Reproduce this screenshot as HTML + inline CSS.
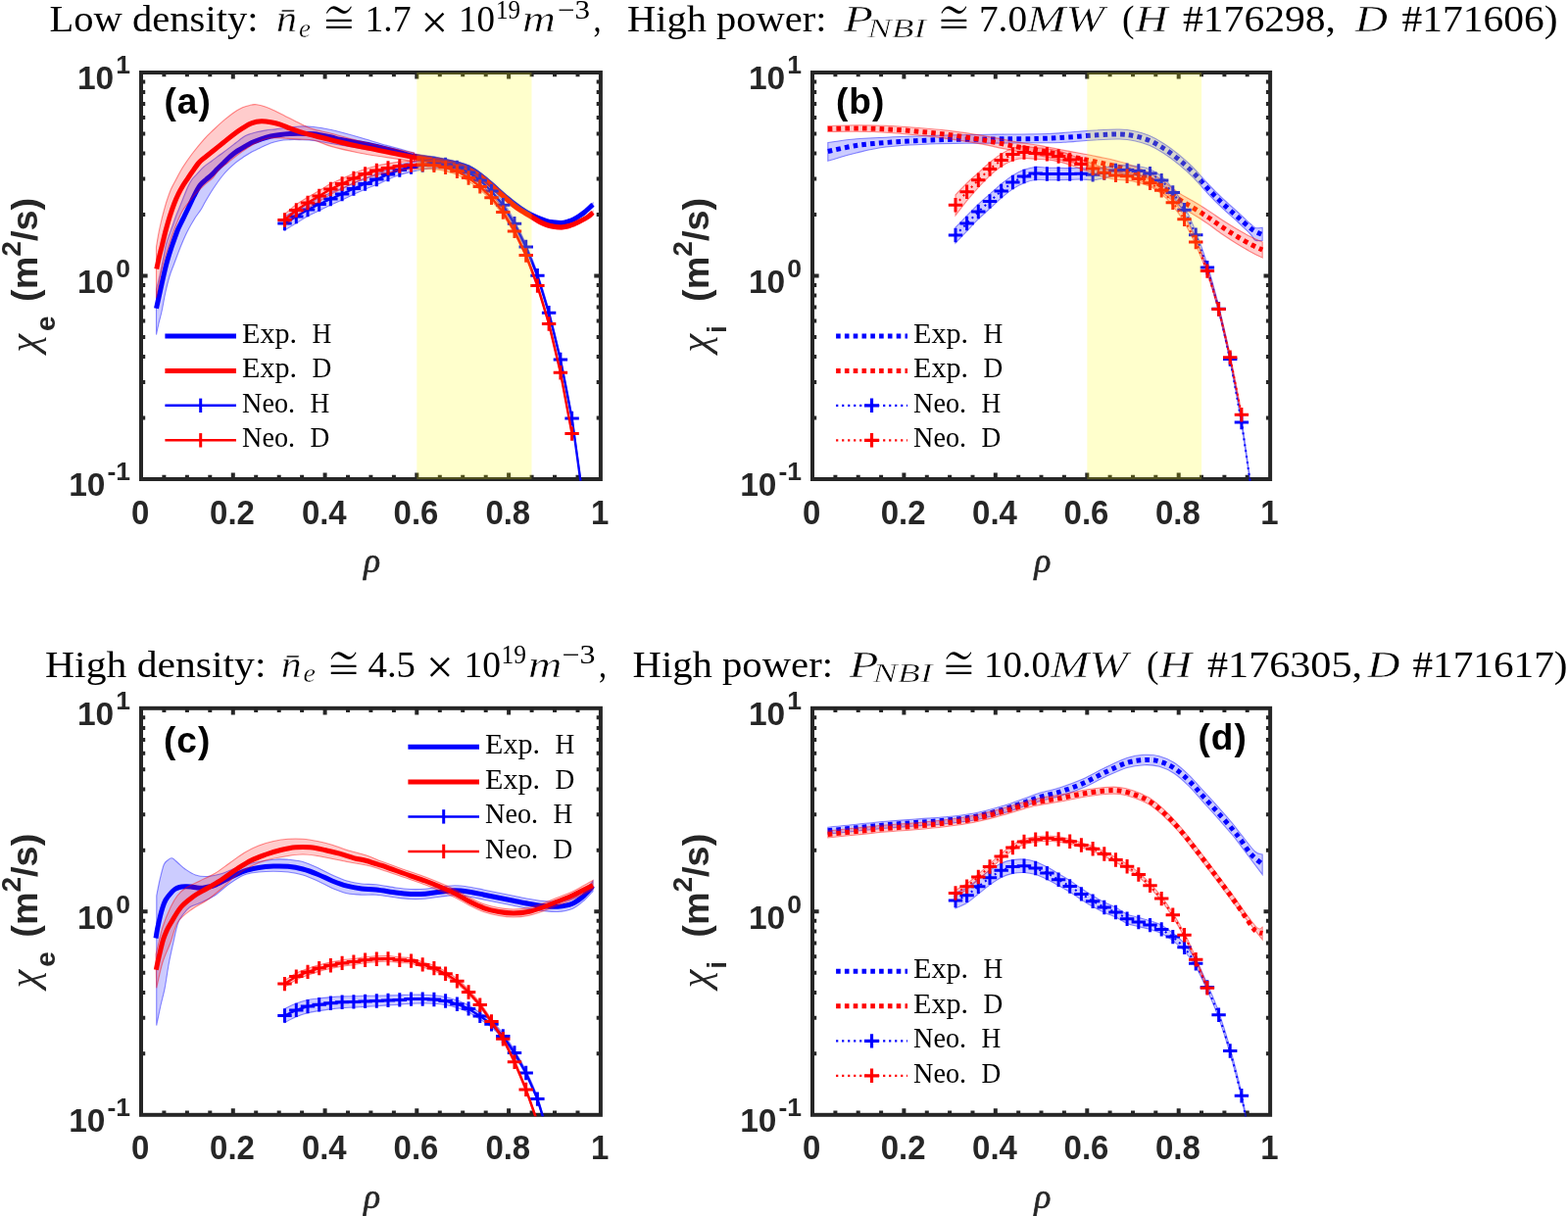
<!DOCTYPE html><html><head><meta charset="utf-8"><style>html,body{margin:0;padding:0;background:#fff;overflow:hidden;}svg{display:block}</style></head><body>
<svg width="1600" height="1241" viewBox="0 0 1600 1241">
<rect width="1600" height="1241" fill="#fff"/>
<defs>
<clipPath id="clipa"><rect x="142.5" y="72.5" width="471.9" height="418"/></clipPath>
<clipPath id="clipb"><rect x="827.5" y="72.5" width="470.1" height="418"/></clipPath>
<clipPath id="clipc"><rect x="142.5" y="721.3" width="471.9" height="418"/></clipPath>
<clipPath id="clipd"><rect x="827.5" y="721.3" width="470.1" height="418"/></clipPath>
</defs>
<path d="M167.4 489V484.8M167.4 74V78.2M190.9 489V484.8M190.9 74V78.2M214.3 489V484.8M214.3 74V78.2M237.8 489V482.4M237.8 74V80.6M261.2 489V484.8M261.2 74V78.2M284.7 489V484.8M284.7 74V78.2M308.1 489V484.8M308.1 74V78.2M331.6 489V482.4M331.6 74V80.6M355 489V484.8M355 74V78.2M378.4 489V484.8M378.4 74V78.2M401.9 489V484.8M401.9 74V78.2M425.3 489V482.4M425.3 74V80.6M448.8 489V484.8M448.8 74V78.2M472.2 489V484.8M472.2 74V78.2M495.7 489V484.8M495.7 74V78.2M519.1 489V482.4M519.1 74V80.6M542.6 489V484.8M542.6 74V78.2M566 489V484.8M566 74V78.2M589.5 489V484.8M589.5 74V78.2M144 426.5H148.2M612.9 426.5H608.7M144 390H148.2M612.9 390H608.7M144 364.1H148.2M612.9 364.1H608.7M144 344H148.2M612.9 344H608.7M144 327.5H148.2M612.9 327.5H608.7M144 313.6H148.2M612.9 313.6H608.7M144 301.6H148.2M612.9 301.6H608.7M144 291H148.2M612.9 291H608.7M144 281.5H150.6M612.9 281.5H606.3M144 219H148.2M612.9 219H608.7M144 182.5H148.2M612.9 182.5H608.7M144 156.6H148.2M612.9 156.6H608.7M144 136.5H148.2M612.9 136.5H608.7M144 120H148.2M612.9 120H608.7M144 106.1H148.2M612.9 106.1H608.7M144 94.1H148.2M612.9 94.1H608.7M144 83.5H148.2M612.9 83.5H608.7" stroke="#262626" stroke-width="4" fill="none"/>
<rect x="144" y="74" width="468.9" height="415" fill="none" stroke="#262626" stroke-width="4" stroke-linejoin="miter"/>
<text x="143.2" y="534.5" text-anchor="middle" textLength="18.3" lengthAdjust="spacingAndGlyphs" style="font-family:'Liberation Sans',Arial,sans-serif;font-weight:bold;fill:#262626;font-size:34.5px">0</text>
<text x="237" y="534.5" text-anchor="middle" textLength="45.8" lengthAdjust="spacingAndGlyphs" style="font-family:'Liberation Sans',Arial,sans-serif;font-weight:bold;fill:#262626;font-size:34.5px">0.2</text>
<text x="330.8" y="534.5" text-anchor="middle" textLength="45.8" lengthAdjust="spacingAndGlyphs" style="font-family:'Liberation Sans',Arial,sans-serif;font-weight:bold;fill:#262626;font-size:34.5px">0.4</text>
<text x="424.5" y="534.5" text-anchor="middle" textLength="45.8" lengthAdjust="spacingAndGlyphs" style="font-family:'Liberation Sans',Arial,sans-serif;font-weight:bold;fill:#262626;font-size:34.5px">0.6</text>
<text x="518.3" y="534.5" text-anchor="middle" textLength="45.8" lengthAdjust="spacingAndGlyphs" style="font-family:'Liberation Sans',Arial,sans-serif;font-weight:bold;fill:#262626;font-size:34.5px">0.8</text>
<text x="612.1" y="534.5" text-anchor="middle" textLength="18.3" lengthAdjust="spacingAndGlyphs" style="font-family:'Liberation Sans',Arial,sans-serif;font-weight:bold;fill:#262626;font-size:34.5px">1</text>
<text x="133" y="506.3" text-anchor="end" style="font-family:'Liberation Sans',Arial,sans-serif;font-weight:bold;fill:#262626;font-size:33.5px">10<tspan dx="2" dy="-16" style="font-size:26.5px">-1</tspan></text>
<text x="133" y="298.8" text-anchor="end" style="font-family:'Liberation Sans',Arial,sans-serif;font-weight:bold;fill:#262626;font-size:33.5px">10<tspan dx="2" dy="-16" style="font-size:26.5px">0</tspan></text>
<text x="133" y="91.3" text-anchor="end" style="font-family:'Liberation Sans',Arial,sans-serif;font-weight:bold;fill:#262626;font-size:33.5px">10<tspan dx="2" dy="-16" style="font-size:26.5px">1</tspan></text>
<text x="379.6" y="584.4" text-anchor="middle" style="font-family:'Liberation Serif','Times New Roman',serif;font-size:35px;fill:#262626;font-style:italic" stroke="#262626" stroke-width="0.7">ρ</text>
<g clip-path="url(#clipa)">
<path d="M159.5 295C160.1 292.7 161.8 286.2 163 281C164.2 275.8 165.4 269.2 166.5 264C167.6 258.8 168.3 254 169.3 250C170.3 246 171.4 243.1 172.5 240C173.6 236.9 174.7 234.3 175.8 231.3C176.9 228.3 177.8 225.2 179 222C180.2 218.8 181.7 215.3 183 212C184.3 208.7 185.5 205.7 187 202C188.5 198.3 190.5 193.2 192 190C193.5 186.8 194.7 184.9 196 183C197.3 181.1 198 180.8 200 178.7C202 176.6 205.3 172.6 208 170.2C210.7 167.8 212.7 166.7 216.1 164.2C219.5 161.7 224.2 158.3 228.2 155.3C232.2 152.3 237.2 148.4 240.3 146C243.4 143.6 244.7 142.4 246.7 141C248.7 139.6 249.7 138.7 252.2 137.7C254.7 136.7 258.7 135.6 261.9 134.8C265.1 134 268.3 133.4 271.5 132.9C274.7 132.4 278 132.3 281.2 131.9C284.4 131.5 286.9 131 290.9 130.5C294.9 130 300.5 129.2 305.4 129C310.2 128.8 314.6 128.9 320 129.5C325.4 130.1 330.3 130.8 338 132.5C345.7 134.2 356.9 137.3 366.2 140C375.6 142.7 385 145.7 394.4 148.4C403.8 151.1 417.8 154.7 422.5 156L422.5 160.6C417.8 159.8 403.8 157.6 394.4 156C385 154.4 375.6 152.8 366.2 151.2C356.9 149.7 345.7 147.8 338 146.5C330.3 145.2 325.4 144.2 320 143.5C314.6 142.8 309.4 142.8 305.4 142.6C301.3 142.4 298.9 142.4 295.7 142.6C292.5 142.8 289.3 142.9 286.1 143.5C282.9 144.1 279.6 144.8 276.4 145.9C273.2 147 269.9 148.8 266.7 150.3C263.5 151.8 259.8 153.5 257 155C254.2 156.5 252.8 157.4 250 159.3C247.2 161.2 243.9 163.1 240.3 166.2C236.7 169.3 232 173.5 228.2 178C224.4 182.5 220.3 188.5 217.3 193C214.3 197.5 212.1 201.5 210 205C207.9 208.5 206.8 211.1 205 214C203.2 216.9 201.3 218.8 199 222.5C196.7 226.2 193.8 231.1 191.3 236C188.8 240.9 186.5 246.3 184.2 252C181.9 257.7 179.3 265 177.4 270C175.5 275 174.5 277 173 282C171.5 287 169.8 294 168.5 300C167.2 306 166.1 313 165 318C163.9 323 162.9 326.1 162 330C161.1 333.9 159.9 339.7 159.5 341.6Z" fill="#0000ff" fill-opacity="0.2" stroke="#0000ff" stroke-opacity="0.45" stroke-width="1.1"/>
<path d="M422.5 157C426.9 157.7 439.8 159.1 449 161.1C458.2 163 469.9 165.1 478 168.6C486.1 172.2 490.9 177.1 497.3 182.2C503.8 187.3 511.1 194.6 516.7 199.3C522.3 204 526.7 207.3 531 210.3C535.3 213.3 538.1 215.1 542.5 217.3C546.9 219.5 553.8 222.3 557.5 223.6C561.2 224.9 562.4 224.7 565 225C567.6 225.4 570.6 225.7 573.1 225.6C575.6 225.5 577.9 224.8 580 224.2C582.1 223.6 583.8 222.9 585.6 222C587.4 221.1 589.1 220 591 218.8C592.9 217.6 595.2 215.9 596.9 214.6C598.6 213.3 599.6 212.2 601 210.9C602.4 209.7 604.3 207.9 605 207.2L605 210.2C604.3 210.9 602.4 212.8 601 214.1C599.6 215.3 598.6 216.5 596.9 217.9C595.2 219.2 592.9 220.9 591 222.2C589.1 223.5 587.4 224.6 585.6 225.5C583.8 226.5 582.1 227.2 580 227.8C577.9 228.5 575.6 229.2 573.1 229.4C570.6 229.6 567.6 229.3 565 229C562.4 228.7 561.2 228.9 557.5 227.6C553.8 226.4 546.9 223.7 542.5 221.5C538.1 219.3 535.3 217.6 531 214.7C526.7 211.7 522.3 208.4 516.7 203.7C511.1 199.1 503.8 191.9 497.3 186.8C490.9 181.7 486.1 176.8 478 173.4C469.9 169.9 458.2 167.8 449 165.9C439.8 164 426.9 162.7 422.5 162Z" fill="#0000ff" fill-opacity="0.2" stroke="#0000ff" stroke-opacity="0.45" stroke-width="1.1"/>
<path d="M159.5 314.8C160.1 312.2 161.8 304.6 163 299C164.2 293.4 165.7 286.7 167 281C168.3 275.3 169.5 270.2 171 265C172.5 259.8 174.1 254.9 175.8 250C177.5 245.1 179.6 239.2 181 235.5C182.4 231.8 183.3 230.6 184.5 228C185.7 225.4 187 222.9 188.4 220C189.8 217.1 191.4 213.8 193 210.5C194.6 207.2 196.2 203.6 198 200C199.8 196.4 202 191.9 204 189.2C206 186.4 208 185.3 210 183.5C212 181.7 214.1 180.2 216.1 178.3C218.1 176.4 220 174.2 222 172.2C224 170.2 226.2 168.1 228.2 166.2C230.2 164.2 232 162.3 234 160.5C236 158.7 237.6 157.1 240.3 155.3C243 153.5 247.2 151.1 250 149.5C252.8 147.9 254.2 146.9 257 145.6C259.8 144.3 263.5 142.9 266.7 141.8C269.9 140.7 273.2 139.7 276.4 139C279.6 138.3 282.9 137.8 286.1 137.4C289.3 137 292.5 136.7 295.7 136.5C298.9 136.3 301.3 136.1 305.4 136.2C309.4 136.2 314.6 136.2 320 136.8C325.4 137.4 333.4 139.1 338 140C342.6 140.9 341.2 141.2 347.5 142.5C353.8 143.8 366.2 145.5 375.6 147.5C385 149.5 395.9 152.5 403.8 154.5C411.6 156.5 415 158 422.5 159.5C430 161 439.8 161.6 449 163.5C458.2 165.4 469.9 167.5 478 171C486.1 174.5 490.9 179.4 497.3 184.5C503.8 189.6 511.1 196.8 516.7 201.5C522.3 206.2 526.7 209.5 531 212.5C535.3 215.5 538.1 217.2 542.5 219.4C546.9 221.6 553.8 224.3 557.5 225.6C561.2 226.9 562.4 226.7 565 227C567.6 227.3 570.6 227.7 573.1 227.5C575.6 227.3 577.9 226.6 580 226C582.1 225.4 583.8 224.7 585.6 223.8C587.4 222.8 589.1 221.8 591 220.5C592.9 219.2 595.2 217.6 596.9 216.2C598.6 214.9 599.6 213.8 601 212.5C602.4 211.2 604.3 209.4 605 208.8" fill="none" stroke="#0000ff" stroke-width="5" stroke-linejoin="round" stroke-linecap="butt"/>
<path d="M159.5 252C159.8 250 160.8 244 161.5 240C162.2 236 163.1 232 164 228C164.9 224 165.9 220 167 216C168.1 212 169.2 207.8 170.5 204C171.8 200.2 173 196.5 174.5 193C176 189.5 177.7 186.7 179.7 183C181.7 179.3 183.6 175.3 186.3 171C189 166.7 192.4 161.8 196 157C199.6 152.2 204.3 146.5 208 142.3C211.7 138.1 215.1 135.2 218.4 132C221.7 128.8 224.8 126 228 123.2C231.2 120.5 234.5 117.8 237.7 115.5C240.9 113.2 244.2 111.1 247.4 109.7C250.6 108.3 254.6 107.5 257 107C259.4 106.5 259.5 106.4 261.9 106.8C264.3 107.2 268.3 108.1 271.5 109.2C274.7 110.3 278 112 281.2 113.5C284.4 115 287.7 116.8 290.9 118.4C294.1 120 297.4 121.6 300.6 123.2C303.8 124.8 307 126.5 310.2 128C313.4 129.4 315.4 130.5 320 131.9C324.6 133.3 330.3 134.3 338 136.2C345.7 138.2 356.9 141.4 366.2 143.8C375.6 146.1 385 148.3 394.4 150.3C403.8 152.3 417.8 155.1 422.5 156L422.5 165C420.9 164.7 417.7 164.1 413 163.4C408.3 162.7 402.2 161.8 394.4 160.6C386.6 159.4 375.6 157.9 366.2 156C356.9 154.1 345.7 151.6 338 149.4C330.3 147.2 325.4 144.2 320 143C314.6 141.8 310.2 142.4 305.4 142.1C300.5 141.8 294.9 141.3 290.9 141.1C286.9 140.8 284.4 140.5 281.2 140.6C278 140.7 274.7 140.8 271.5 141.6C268.3 142.4 265.1 143.9 261.9 145.5C258.7 147.1 255.4 149.2 252.2 151.3C249 153.4 245.7 155.6 242.5 158C239.3 160.4 236.1 163.2 232.9 165.8C229.7 168.4 225.7 171 223.2 173.5C220.7 176 220.2 178.4 217.7 181C215.2 183.6 210.9 186.6 208 189.3C205.1 192 203 194.1 200.3 197.1C197.6 200.1 194.4 204.2 191.9 207.4C189.4 210.6 187.7 212.4 185.5 216.4C183.3 220.4 181.2 225.7 179 231.3C176.8 236.9 174.3 244.9 172.6 250C170.8 255.1 169.8 257.8 168.5 262C167.2 266.2 166.1 270.3 165 275C163.9 279.7 162.9 285.2 162 290C161.1 294.8 159.9 301.7 159.5 304Z" fill="#ff0000" fill-opacity="0.2" stroke="#ff0000" stroke-opacity="0.45" stroke-width="1.1"/>
<path d="M422.5 157.1C424.6 157.5 430.6 158.8 435 159.6C439.4 160.4 444 160.7 449 161.7C454 162.7 460.2 164.3 465 165.8C469.8 167.2 474 168.6 478 170.4C482 172.2 485.8 174.4 489 176.5C492.2 178.6 494.3 180.3 497.3 182.9C500.3 185.4 503.8 188.8 507 191.7C510.2 194.6 513.9 197.7 516.7 200.3C519.5 202.8 521.6 204.9 524 206.9C526.4 208.8 527.9 210 531 212C534.1 214 539.3 216.9 542.5 218.8C545.7 220.8 547.5 222.3 550 223.6C552.5 225 555 226.2 557.5 227.1C560 228.1 562.4 228.7 565 229.1C567.6 229.6 570.6 229.9 573.1 229.8C575.6 229.8 577.9 229.3 580 228.8C582.1 228.3 583.8 227.6 585.6 226.9C587.4 226.2 589.1 225.4 591 224.5C592.9 223.6 595.2 222.4 596.9 221.5C598.6 220.6 599.6 219.9 601 218.9C602.4 217.9 604.3 216 605 215.4L605 218.4C604.3 219 602.4 221 601 222.1C599.6 223.2 598.6 223.9 596.9 224.9C595.2 225.9 592.9 227.1 591 228.1C589.1 229 587.4 229.8 585.6 230.6C583.8 231.4 582.1 232.2 580 232.8C577.9 233.3 575.6 233.9 573.1 234C570.6 234.1 567.6 233.9 565 233.5C562.4 233.1 560 232.5 557.5 231.7C555 230.8 552.5 229.7 550 228.4C547.5 227 545.7 225.6 542.5 223.8C539.3 221.9 534.1 219 531 217C527.9 215.1 526.4 214 524 212.1C521.6 210.3 519.5 208.2 516.7 205.7C513.9 203.3 510.2 200.2 507 197.3C503.8 194.5 500.3 191.2 497.3 188.7C494.3 186.3 492.2 184.5 489 182.5C485.8 180.5 482 178.3 478 176.6C474 174.9 469.8 173.6 465 172.2C460.2 170.8 454 169.3 449 168.3C444 167.3 439.4 167.1 435 166.4C430.6 165.7 424.6 164.5 422.5 164.1Z" fill="#ff0000" fill-opacity="0.2" stroke="#ff0000" stroke-opacity="0.45" stroke-width="1.1"/>
<path d="M159.8 274.5C160.2 272.4 161.6 266.1 162.5 262C163.4 257.9 164.4 254.6 165.5 250C166.6 245.4 168 239.3 169.3 234.5C170.6 229.7 171.8 225.4 173.2 221C174.6 216.6 176.2 211.9 177.7 208C179.2 204.1 180.7 200.8 182.2 197.7C183.7 194.6 185.2 192 186.8 189.3C188.4 186.6 190.2 184.2 191.9 181.6C193.6 179 195.2 176.6 197.1 174C198.9 171.4 201.1 168.2 203 166C204.9 163.8 206.1 163.1 208.7 161C211.3 158.9 215.2 155.8 218.4 153.2C221.6 150.6 224.8 148.1 228 145.5C231.2 142.9 234.5 140.1 237.7 137.7C240.9 135.3 244.2 132.9 247.4 130.9C250.6 128.9 253.8 126.8 257 125.6C260.2 124.4 263.5 123.8 266.7 123.7C269.9 123.6 273.2 124.1 276.4 124.7C279.6 125.3 282.9 126.1 286.1 127.1C289.3 128.1 292.5 129.7 295.7 130.9C298.9 132.1 302.2 133.2 305.4 134.3C308.6 135.4 311.2 136.2 315.1 137.2C319 138.2 323.4 139.2 328.8 140.5C334.1 141.8 341.2 143.7 347.5 145.2C353.8 146.7 360 148.1 366.2 149.4C372.5 150.7 378.8 151.8 385 153.1C391.2 154.3 397.5 155.7 403.8 156.9C410 158.2 417.3 159.6 422.5 160.6C427.7 161.6 430.6 162.3 435 163C439.4 163.7 444 164 449 165C454 166 460.2 167.6 465 169C469.8 170.4 474 171.8 478 173.5C482 175.2 485.8 177.4 489 179.5C492.2 181.6 494.3 183.3 497.3 185.8C500.3 188.3 503.8 191.6 507 194.5C510.2 197.4 513.9 200.5 516.7 203C519.5 205.5 521.6 207.6 524 209.5C526.4 211.4 527.9 212.5 531 214.5C534.1 216.5 539.3 219.4 542.5 221.3C545.7 223.2 547.5 224.7 550 226C552.5 227.3 555 228.5 557.5 229.4C560 230.3 562.4 230.9 565 231.3C567.6 231.7 570.6 232 573.1 231.9C575.6 231.8 577.9 231.3 580 230.8C582.1 230.3 583.8 229.5 585.6 228.8C587.4 228 589.1 227.2 591 226.3C592.9 225.4 595.2 224.2 596.9 223.2C598.6 222.2 599.6 221.6 601 220.5C602.4 219.4 604.3 217.5 605 216.9" fill="none" stroke="#ff0000" stroke-width="5" stroke-linejoin="round" stroke-linecap="butt"/>
<path d="M290.5 221C292.5 219.9 298.3 216.5 302.3 214.2C306.2 211.9 310.1 209.4 314 207.4C317.9 205.4 321.8 203.8 325.7 202.1C329.6 200.3 333.5 198.5 337.4 196.8C341.3 195.1 345.2 193.6 349.1 192C353.1 190.3 357 188.3 360.9 186.7C364.8 185 368.7 183.4 372.6 181.8C376.5 180.3 380.4 179.1 384.3 177.5C388.2 176 392.1 174.2 396 172.7C399.9 171.2 403.8 169.6 407.8 168.4C411.7 167.2 415.6 166.4 419.5 165.6C423.4 164.8 427.3 164.3 431.2 163.8C435.1 163.3 439 162.5 442.9 162.5C446.8 162.5 450.7 163 454.6 163.7C458.6 164.4 462.5 165.5 466.4 166.9C470.3 168.3 474.2 169.8 478.1 172.1C482 174.3 485.9 177 489.8 180.3C493.7 183.5 497.6 187.2 501.5 191.5C505.4 195.7 509.4 200.3 513.3 206C517.2 211.6 521.1 218 525 225.1C528.9 232.3 532.8 240.1 536.7 249C540.6 257.9 544.5 267.2 548.4 278.5C552.3 289.8 556.2 302.4 560.1 316.7C564.1 331.1 568 346.6 571.9 364.6C575.8 382.6 579.7 400.5 583.6 424.7C587.5 448.9 593.4 495.8 595.3 510L595.3 514C593.4 499.8 587.5 453.2 583.6 429.1C579.7 405 575.8 387.3 571.9 369.4C568 351.5 564.1 336.1 560.1 321.9C556.2 307.7 552.3 295.2 548.4 284.1C544.5 272.9 540.6 263.7 536.7 255C532.8 246.2 528.9 238.5 525 231.5C521.1 224.4 517.2 218.1 513.3 212.6C509.4 207.2 505.4 202.7 501.5 198.5C497.6 194.4 493.7 190.8 489.8 187.7C485.9 184.6 482 182 478.1 179.9C474.2 177.8 470.3 176.4 466.4 175.1C462.5 173.8 458.6 172.9 454.6 172.3C450.7 171.7 446.8 171.4 442.9 171.5C439 171.6 435.1 172.5 431.2 173.2C427.3 173.8 423.4 174.5 419.5 175.4C415.6 176.3 411.7 177.3 407.8 178.6C403.8 179.9 399.9 181.6 396 183.3C392.1 184.9 388.2 186.8 384.3 188.5C380.4 190.1 376.5 191.5 372.6 193.2C368.7 194.8 364.8 196.5 360.9 198.3C357 200.2 353.1 202.2 349.1 204C345.2 205.9 341.3 207.4 337.4 209.2C333.5 211 329.6 213 325.7 214.9C321.8 216.8 317.9 218.5 314 220.6C310.1 222.8 306.2 225.4 302.3 227.8C298.3 230.2 292.5 233.8 290.5 235Z" fill="#0000ff" fill-opacity="0.2" stroke="#0000ff" stroke-opacity="0.45" stroke-width="1.1"/>
<path d="M290.5 228L302.3 221L314 214L325.7 208.5L337.4 203L349.1 198L360.9 192.5L372.6 187.5L384.3 183L396 178L407.8 173.5L419.5 170.5L431.2 168.5L442.9 167L454.6 168L466.4 171L478.1 176L489.8 184L501.5 195L513.3 209.3L525 228.3L536.7 252L548.4 281.3L560.1 319.3L571.9 367L583.6 426.9L595.3 512" fill="none" stroke="#0000ff" stroke-width="2.4" stroke-linejoin="round"/>
<path d="M283.3 228H297.7M290.5 220.8V235.2M295.1 221H309.5M302.3 213.8V228.2M306.8 214H321.2M314 206.8V221.2M318.5 208.5H332.9M325.7 201.3V215.7M330.2 203H344.6M337.4 195.8V210.2M341.9 198H356.3M349.1 190.8V205.2M353.7 192.5H368.1M360.9 185.3V199.7M365.4 187.5H379.8M372.6 180.3V194.7M377.1 183H391.5M384.3 175.8V190.2M388.8 178H403.2M396 170.8V185.2M400.6 173.5H415M407.8 166.3V180.7M412.3 170.5H426.7M419.5 163.3V177.7M424 168.5H438.4M431.2 161.3V175.7M435.7 167H450.1M442.9 159.8V174.2M447.4 168H461.8M454.6 160.8V175.2M459.2 171H473.6M466.4 163.8V178.2M470.9 176H485.3M478.1 168.8V183.2M482.6 184H497M489.8 176.8V191.2M494.3 195H508.7M501.5 187.8V202.2M506.1 209.3H520.5M513.3 202.1V216.5M517.8 228.3H532.2M525 221.1V235.5M529.5 252H543.9M536.7 244.8V259.2M541.2 281.3H555.6M548.4 274.1V288.5M552.9 319.3H567.3M560.1 312.1V326.5M564.7 367H579.1M571.9 359.8V374.2M576.4 426.9H590.8M583.6 419.7V434.1" stroke="#0000ff" stroke-width="3.0" fill="none"/>
<path d="M290.5 218.5C292.5 216.9 298.3 211.5 302.3 208.7C306.2 205.8 310.1 203.7 314 201.3C317.9 199 321.8 196.8 325.7 194.5C329.6 192.2 333.5 189.7 337.4 187.6C341.3 185.6 345.2 184.1 349.1 182.3C353.1 180.5 357 178.6 360.9 177C364.8 175.3 368.7 173.9 372.6 172.6C376.5 171.3 380.4 170.2 384.3 169.3C388.2 168.3 392.1 167.6 396 166.9C399.9 166.2 403.8 165.5 407.8 165.1C411.7 164.7 415.6 164.5 419.5 164.3C423.4 164.1 427.3 163.8 431.2 163.9C435.1 164 439 164.3 442.9 164.8C446.8 165.3 450.7 166 454.6 167C458.6 168.1 462.5 169.3 466.4 171.1C470.3 172.9 474.2 175.4 478.1 178.1C482 180.7 485.9 183.7 489.8 187.1C493.7 190.5 497.6 194.2 501.5 198.6C505.4 203 509.4 207.9 513.3 213.6C517.2 219.4 521.1 225.7 525 233.1C528.9 240.5 532.8 248.5 536.7 257.9C540.6 267.2 544.5 277.4 548.4 289.1C552.3 300.8 556.2 313.4 560.1 328.2C564.1 343 568 359.3 571.9 378C575.8 396.8 581.6 430.2 583.6 440.6L583.6 444.6C581.6 434.2 575.8 401 571.9 382.4C568 363.7 564.1 347.5 560.1 332.8C556.2 318.1 552.3 305.7 548.4 294.1C544.5 282.5 540.6 272.4 536.7 263.1C532.8 253.9 528.9 246 525 238.7C521.1 231.4 517.2 225.2 513.3 219.6C509.4 213.9 505.4 209.1 501.5 204.8C497.6 200.5 493.7 197 489.8 193.7C485.9 190.4 482 187.5 478.1 184.9C474.2 182.4 470.3 180 466.4 178.3C462.5 176.6 458.6 175.5 454.6 174.6C450.7 173.6 446.8 173 442.9 172.6C439 172.2 435.1 172.1 431.2 172.1C427.3 172.1 423.4 172.4 419.5 172.7C415.6 173 411.7 173.3 407.8 173.9C403.8 174.5 399.9 175.3 396 176.1C392.1 176.9 388.2 177.7 384.3 178.7C380.4 179.8 376.5 181 372.6 182.4C368.7 183.8 364.8 185.3 360.9 187C357 188.8 353.1 190.8 349.1 192.7C345.2 194.6 341.3 196.2 337.4 198.4C333.5 200.5 329.6 203.1 325.7 205.5C321.8 207.9 317.9 210.2 314 212.7C310.1 215.2 306.2 217.4 302.3 220.3C298.3 223.3 292.5 228.8 290.5 230.5Z" fill="#ff0000" fill-opacity="0.2" stroke="#ff0000" stroke-opacity="0.45" stroke-width="1.1"/>
<path d="M290.5 224.5L302.3 214.5L314 207L325.7 200L337.4 193L349.1 187.5L360.9 182L372.6 177.5L384.3 174L396 171.5L407.8 169.5L419.5 168.5L431.2 168L442.9 168.7L454.6 170.8L466.4 174.7L478.1 181.5L489.8 190.4L501.5 201.7L513.3 216.6L525 235.9L536.7 260.5L548.4 291.6L560.1 330.5L571.9 380.2L583.6 442.6" fill="none" stroke="#ff0000" stroke-width="2.4" stroke-linejoin="round"/>
<path d="M283.3 224.5H297.7M290.5 217.3V231.7M295.1 214.5H309.5M302.3 207.3V221.7M306.8 207H321.2M314 199.8V214.2M318.5 200H332.9M325.7 192.8V207.2M330.2 193H344.6M337.4 185.8V200.2M341.9 187.5H356.3M349.1 180.3V194.7M353.7 182H368.1M360.9 174.8V189.2M365.4 177.5H379.8M372.6 170.3V184.7M377.1 174H391.5M384.3 166.8V181.2M388.8 171.5H403.2M396 164.3V178.7M400.6 169.5H415M407.8 162.3V176.7M412.3 168.5H426.7M419.5 161.3V175.7M424 168H438.4M431.2 160.8V175.2M435.7 168.7H450.1M442.9 161.5V175.9M447.4 170.8H461.8M454.6 163.6V178M459.2 174.7H473.6M466.4 167.5V181.9M470.9 181.5H485.3M478.1 174.3V188.7M482.6 190.4H497M489.8 183.2V197.6M494.3 201.7H508.7M501.5 194.5V208.9M506.1 216.6H520.5M513.3 209.4V223.8M517.8 235.9H532.2M525 228.7V243.1M529.5 260.5H543.9M536.7 253.3V267.7M541.2 291.6H555.6M548.4 284.4V298.8M552.9 330.5H567.3M560.1 323.3V337.7M564.7 380.2H579.1M571.9 373V387.4M576.4 442.6H590.8M583.6 435.4V449.8" stroke="#ff0000" stroke-width="3.0" fill="none"/>
</g>
<path d="M852.4 489V484.8M852.4 74V78.2M875.7 489V484.8M875.7 74V78.2M899.1 489V484.8M899.1 74V78.2M922.4 489V482.4M922.4 74V80.6M945.8 489V484.8M945.8 74V78.2M969.1 489V484.8M969.1 74V78.2M992.5 489V484.8M992.5 74V78.2M1015.8 489V482.4M1015.8 74V80.6M1039.2 489V484.8M1039.2 74V78.2M1062.5 489V484.8M1062.5 74V78.2M1085.9 489V484.8M1085.9 74V78.2M1109.3 489V482.4M1109.3 74V80.6M1132.6 489V484.8M1132.6 74V78.2M1156 489V484.8M1156 74V78.2M1179.3 489V484.8M1179.3 74V78.2M1202.7 489V482.4M1202.7 74V80.6M1226 489V484.8M1226 74V78.2M1249.4 489V484.8M1249.4 74V78.2M1272.7 489V484.8M1272.7 74V78.2M829 426.5H833.2M1296.1 426.5H1291.9M829 390H833.2M1296.1 390H1291.9M829 364.1H833.2M1296.1 364.1H1291.9M829 344H833.2M1296.1 344H1291.9M829 327.5H833.2M1296.1 327.5H1291.9M829 313.6H833.2M1296.1 313.6H1291.9M829 301.6H833.2M1296.1 301.6H1291.9M829 291H833.2M1296.1 291H1291.9M829 281.5H835.6M1296.1 281.5H1289.5M829 219H833.2M1296.1 219H1291.9M829 182.5H833.2M1296.1 182.5H1291.9M829 156.6H833.2M1296.1 156.6H1291.9M829 136.5H833.2M1296.1 136.5H1291.9M829 120H833.2M1296.1 120H1291.9M829 106.1H833.2M1296.1 106.1H1291.9M829 94.1H833.2M1296.1 94.1H1291.9M829 83.5H833.2M1296.1 83.5H1291.9" stroke="#262626" stroke-width="4" fill="none"/>
<rect x="829" y="74" width="467.1" height="415" fill="none" stroke="#262626" stroke-width="4" stroke-linejoin="miter"/>
<text x="828.2" y="534.5" text-anchor="middle" textLength="18.3" lengthAdjust="spacingAndGlyphs" style="font-family:'Liberation Sans',Arial,sans-serif;font-weight:bold;fill:#262626;font-size:34.5px">0</text>
<text x="921.6" y="534.5" text-anchor="middle" textLength="45.8" lengthAdjust="spacingAndGlyphs" style="font-family:'Liberation Sans',Arial,sans-serif;font-weight:bold;fill:#262626;font-size:34.5px">0.2</text>
<text x="1015" y="534.5" text-anchor="middle" textLength="45.8" lengthAdjust="spacingAndGlyphs" style="font-family:'Liberation Sans',Arial,sans-serif;font-weight:bold;fill:#262626;font-size:34.5px">0.4</text>
<text x="1108.5" y="534.5" text-anchor="middle" textLength="45.8" lengthAdjust="spacingAndGlyphs" style="font-family:'Liberation Sans',Arial,sans-serif;font-weight:bold;fill:#262626;font-size:34.5px">0.6</text>
<text x="1201.9" y="534.5" text-anchor="middle" textLength="45.8" lengthAdjust="spacingAndGlyphs" style="font-family:'Liberation Sans',Arial,sans-serif;font-weight:bold;fill:#262626;font-size:34.5px">0.8</text>
<text x="1295.3" y="534.5" text-anchor="middle" textLength="18.3" lengthAdjust="spacingAndGlyphs" style="font-family:'Liberation Sans',Arial,sans-serif;font-weight:bold;fill:#262626;font-size:34.5px">1</text>
<text x="818" y="506.3" text-anchor="end" style="font-family:'Liberation Sans',Arial,sans-serif;font-weight:bold;fill:#262626;font-size:33.5px">10<tspan dx="2" dy="-16" style="font-size:26.5px">-1</tspan></text>
<text x="818" y="298.8" text-anchor="end" style="font-family:'Liberation Sans',Arial,sans-serif;font-weight:bold;fill:#262626;font-size:33.5px">10<tspan dx="2" dy="-16" style="font-size:26.5px">0</tspan></text>
<text x="818" y="91.3" text-anchor="end" style="font-family:'Liberation Sans',Arial,sans-serif;font-weight:bold;fill:#262626;font-size:33.5px">10<tspan dx="2" dy="-16" style="font-size:26.5px">1</tspan></text>
<text x="1063.8" y="584.4" text-anchor="middle" style="font-family:'Liberation Serif','Times New Roman',serif;font-size:35px;fill:#262626;font-style:italic" stroke="#262626" stroke-width="0.7">ρ</text>
<g clip-path="url(#clipb)">
<path d="M844.8 145.5C849.6 144.9 861.6 142.8 874 141.8C886.4 140.8 904 140.1 919 139.5C934 138.9 949 138.4 964 138C979 137.6 991.5 137.5 1009 137.2C1026.5 137 1055.5 136.9 1069 136.5C1082.5 136.1 1081.5 135.6 1090 135C1098.5 134.4 1111.2 133.2 1120 132.8C1128.8 132.2 1136.2 131.8 1142.5 132C1148.8 132.2 1152.5 132.7 1157.5 133.7C1162.5 134.7 1167.5 136.1 1172.5 138.2C1177.5 140.3 1182.5 143.3 1187.5 146.5C1192.5 149.7 1197.5 153.4 1202.5 157.5C1207.5 161.6 1212.5 166 1217.5 171C1222.5 176 1227.5 182.2 1232.5 187.5C1237.5 192.8 1242.5 197.8 1247.5 202.5C1252.5 207.2 1257.8 211.7 1262.5 216C1267.2 220.3 1272.9 225.8 1276 228.5C1279.1 231.2 1279 231.9 1281 232.5C1283 233.1 1287 232.3 1288.2 232.3L1288.2 245.5C1287 245.5 1283 246.4 1281 245.3C1279 244.2 1279.1 242.2 1276 239C1272.9 235.8 1267.2 230.4 1262.5 226C1257.8 221.6 1252.5 217.2 1247.5 212.5C1242.5 207.8 1237.5 202.8 1232.5 197.5C1227.5 192.2 1222.5 186 1217.5 181C1212.5 176 1207.5 171.6 1202.5 167.5C1197.5 163.4 1192.5 159.7 1187.5 156.5C1182.5 153.3 1177.5 150.3 1172.5 148.2C1167.5 146.1 1162.5 144.7 1157.5 143.7C1152.5 142.7 1148.8 142.2 1142.5 142C1136.2 141.8 1128.8 142.2 1120 142.8C1111.2 143.2 1098.5 144.5 1090 145C1081.5 145.5 1085 145.6 1069 145.8C1053 146 1014 146.1 994 146.2C974 146.4 964 146.4 949 147C934 147.6 916.5 148.5 904 150C891.5 151.5 883.9 153.6 874 156C864.1 158.4 849.6 162.9 844.8 164.2Z" fill="#0000ff" fill-opacity="0.2" stroke="#0000ff" stroke-opacity="0.45" stroke-width="1.1"/>
<path d="M844.8 154.5C849.6 153.5 864.1 150 874 148.5C883.9 147 894 146.3 904 145.5C914 144.7 924 144.2 934 143.7C944 143.2 954 142.8 964 142.5C974 142.2 984 142.3 994 142.2C1004 142.1 1013 141.9 1024 141.8C1035 141.6 1049 141.8 1060 141.5C1071 141.2 1080 140.6 1090 140C1100 139.4 1111.2 138.2 1120 137.8C1128.8 137.2 1136.2 136.8 1142.5 137C1148.8 137.2 1152.5 137.7 1157.5 138.7C1162.5 139.7 1167.5 141.1 1172.5 143.2C1177.5 145.3 1182.5 148.3 1187.5 151.5C1192.5 154.7 1197.5 158.4 1202.5 162.5C1207.5 166.6 1212.5 171 1217.5 176C1222.5 181 1227.5 187.2 1232.5 192.5C1237.5 197.8 1242.5 202.8 1247.5 207.5C1252.5 212.2 1257.5 216.6 1262.5 221C1267.5 225.4 1273.2 230.9 1277.5 234C1281.8 237.1 1286.4 238.6 1288.2 239.5" fill="none" stroke="#0000ff" stroke-width="5" stroke-dasharray="4.6 4.2" stroke-linejoin="round" stroke-linecap="butt"/>
<path d="M844.8 128.5C849.6 128.4 864.1 127.8 874 127.7C883.9 127.7 894 127.8 904 128.2C914 128.6 924 129.4 934 130.2C944 131 954 131.8 964 132.9C974 134.1 985.2 135.7 994 137C1002.8 138.3 1009 139.6 1016.5 140.9C1024 142.3 1031.8 143.9 1039 145.2C1046.2 146.4 1051.5 146.9 1060 148.4C1068.5 149.9 1080 152.2 1090 154.1C1100 156 1110 157.7 1120 159.9C1130 162 1140 163.7 1150 167.1C1160 170.5 1171.2 175.4 1180 180.3C1188.8 185.3 1196.2 192.4 1202.5 196.6C1208.8 200.7 1212.5 202.3 1217.5 205.3C1222.5 208.3 1227.5 211.3 1232.5 214.6C1237.5 217.8 1242.5 221.5 1247.5 224.8C1252.5 228 1257.5 231.1 1262.5 234C1267.5 236.9 1273.2 240.1 1277.5 242.3C1281.8 244.4 1286.4 246.2 1288.2 247L1288.2 263C1286.4 262.1 1281.8 260.1 1277.5 257.7C1273.2 255.4 1267.5 252.1 1262.5 249C1257.5 245.9 1252.5 242.6 1247.5 239.2C1242.5 235.8 1237.5 231.9 1232.5 228.4C1227.5 225 1222.5 221.9 1217.5 218.7C1212.5 215.5 1208.8 213.8 1202.5 209.4C1196.2 205.1 1188.8 197.7 1180 192.7C1171.2 187.6 1160 182.5 1150 178.9C1140 175.3 1130 173.5 1120 171.1C1110 168.8 1100 167 1090 164.9C1080 162.8 1068.5 160.3 1060 158.6C1051.5 156.9 1046.2 156.3 1039 154.8C1031.8 153.4 1024 151.6 1016.5 150.1C1009 148.5 1002.8 147.1 994 145.6C985.2 144.1 974 142.4 964 141.1C954 139.7 944 138.8 934 137.8C924 136.8 914 135.9 904 135.3C894 134.7 883.9 134.4 874 134.3C864.1 134.1 849.6 134.5 844.8 134.5Z" fill="#ff0000" fill-opacity="0.2" stroke="#ff0000" stroke-opacity="0.45" stroke-width="1.1"/>
<path d="M844.8 131.5C849.6 131.4 864.1 131 874 131C883.9 131 894 131.2 904 131.8C914 132.2 924 133.1 934 134C944 134.9 954 135.8 964 137C974 138.2 985.2 139.9 994 141.3C1002.8 142.7 1009 144.1 1016.5 145.5C1024 146.9 1031.8 148.7 1039 150C1046.2 151.3 1051.5 151.9 1060 153.5C1068.5 155.1 1080 157.5 1090 159.5C1100 161.5 1110 163.2 1120 165.5C1130 167.8 1140 169.5 1150 173C1160 176.5 1171.2 181.5 1180 186.5C1188.8 191.5 1196.2 198.8 1202.5 203C1208.8 207.2 1212.5 208.9 1217.5 212C1222.5 215.1 1227.5 218.2 1232.5 221.5C1237.5 224.8 1242.5 228.7 1247.5 232C1252.5 235.3 1257.5 238.5 1262.5 241.5C1267.5 244.5 1273.2 247.8 1277.5 250C1281.8 252.2 1286.4 254.2 1288.2 255" fill="none" stroke="#ff0000" stroke-width="5" stroke-dasharray="4.6 4.2" stroke-linejoin="round" stroke-linecap="butt"/>
<path d="M975 232C976.9 230 982.8 224.1 986.6 220.2C990.5 216.3 994.4 212.1 998.3 208.4C1002.2 204.7 1006.1 201.6 1010 198.1C1013.9 194.7 1017.8 191 1021.7 187.8C1025.6 184.7 1029.5 181.5 1033.4 179.1C1037.2 176.6 1041.1 174.7 1045 173.3C1048.9 171.8 1052.8 170.8 1056.7 170.5C1060.6 170.1 1064.5 171 1068.4 171.2C1072.3 171.3 1076.2 171.3 1080.1 171.4C1084 171.5 1087.9 171.6 1091.7 171.6C1095.6 171.7 1099.5 171.4 1103.4 171.6C1107.3 171.8 1111.2 172.9 1115.1 172.8C1119 172.8 1122.9 171.9 1126.8 171.2C1130.7 170.6 1134.6 169.4 1138.5 169C1142.3 168.5 1146.2 168.6 1150.1 168.8C1154 168.9 1157.9 169.2 1161.8 169.9C1165.7 170.5 1169.6 171 1173.5 172.7C1177.4 174.4 1181.3 176.6 1185.2 179.9C1189.1 183.2 1192.9 187.3 1196.8 192.4C1200.7 197.5 1204.6 203.2 1208.5 210.5C1212.4 217.8 1216.3 226.3 1220.2 236.1C1224.1 246 1228 257.1 1231.9 269.8C1235.8 282.4 1239.7 296.5 1243.6 312.2C1247.4 327.8 1251.3 344.3 1255.2 363.7C1259.1 383 1263 404 1266.9 428.3C1270.8 452.6 1276.6 496 1278.6 509.5L1278.6 514.5C1276.6 501 1270.8 457.9 1266.9 433.7C1263 409.5 1259.1 388.7 1255.2 369.5C1251.3 350.3 1247.4 333.9 1243.6 318.4C1239.7 302.9 1235.8 289 1231.9 276.4C1228 263.9 1224.1 253 1220.2 243.3C1216.3 233.5 1212.4 225.2 1208.5 218.1C1204.6 210.9 1200.7 205.3 1196.8 200.4C1192.9 195.4 1189.1 191.4 1185.2 188.3C1181.3 185.1 1177.4 183 1173.5 181.5C1169.6 180 1165.7 179.6 1161.8 179.1C1157.9 178.6 1154 178.4 1150.1 178.4C1146.2 178.4 1142.3 178.5 1138.5 179C1134.6 179.6 1130.7 181 1126.8 181.8C1122.9 182.5 1119 183.6 1115.1 183.8C1111.2 184 1107.3 183 1103.4 183C1099.5 182.9 1095.6 183.3 1091.7 183.4C1087.9 183.5 1084 183.5 1080.1 183.6C1076.2 183.7 1072.3 183.8 1068.4 183.8C1064.5 183.8 1060.6 183 1056.7 183.5C1052.8 184 1048.9 185.2 1045 186.7C1041.1 188.3 1037.2 190.4 1033.4 192.9C1029.5 195.5 1025.6 198.8 1021.7 202.2C1017.8 205.5 1013.9 209.3 1010 212.9C1006.1 216.4 1002.2 219.8 998.3 223.6C994.4 227.4 990.5 231.7 986.6 235.8C982.8 239.9 976.9 246 975 248Z" fill="#0000ff" fill-opacity="0.2" stroke="#0000ff" stroke-opacity="0.45" stroke-width="1.1"/>
<path d="M975 240L986.6 228L998.3 216L1010 205.5L1021.7 195L1033.4 186L1045 180L1056.7 177L1068.4 177.5L1080.1 177.5L1091.7 177.5L1103.4 177.3L1115.1 178.3L1126.8 176.5L1138.5 174L1150.1 173.6L1161.8 174.5L1173.5 177.1L1185.2 184.1L1196.8 196.4L1208.5 214.3L1220.2 239.7L1231.9 273.1L1243.6 315.3L1255.2 366.6L1266.9 431L1278.6 512" fill="none" stroke="#0000ff" stroke-width="2.0" stroke-dasharray="2 4" stroke-linejoin="round"/>
<path d="M967.8 240H982.2M975 232.8V247.2M979.4 228H993.8M986.6 220.8V235.2M991.1 216H1005.5M998.3 208.8V223.2M1002.8 205.5H1017.2M1010 198.3V212.7M1014.5 195H1028.9M1021.7 187.8V202.2M1026.2 186H1040.6M1033.4 178.8V193.2M1037.8 180H1052.2M1045 172.8V187.2M1049.5 177H1063.9M1056.7 169.8V184.2M1061.2 177.5H1075.6M1068.4 170.3V184.7M1072.9 177.5H1087.3M1080.1 170.3V184.7M1084.5 177.5H1098.9M1091.7 170.3V184.7M1096.2 177.3H1110.6M1103.4 170.1V184.5M1107.9 178.3H1122.3M1115.1 171.1V185.5M1119.6 176.5H1134M1126.8 169.3V183.7M1131.3 174H1145.7M1138.5 166.8V181.2M1142.9 173.6H1157.3M1150.1 166.4V180.8M1154.6 174.5H1169M1161.8 167.3V181.7M1166.3 177.1H1180.7M1173.5 169.9V184.3M1178 184.1H1192.4M1185.2 176.9V191.3M1189.6 196.4H1204M1196.8 189.2V203.6M1201.3 214.3H1215.7M1208.5 207.1V221.5M1213 239.7H1227.4M1220.2 232.5V246.9M1224.7 273.1H1239.1M1231.9 265.9V280.3M1236.4 315.3H1250.8M1243.6 308.1V322.5M1248 366.6H1262.4M1255.2 359.4V373.8M1259.7 431H1274.1M1266.9 423.8V438.2" stroke="#0000ff" stroke-width="3.0" fill="none"/>
<path d="M975 198.8C976.9 196.8 982.8 190.6 986.6 186.8C990.5 183.1 994.4 179.8 998.3 176.3C1002.2 172.8 1006.1 168.9 1010 165.7C1013.9 162.5 1017.8 159.5 1021.7 157.1C1025.6 154.7 1029.5 152.6 1033.4 151.3C1037.2 150 1041.1 149.6 1045 149.5C1048.9 149.4 1052.8 150.3 1056.7 150.7C1060.6 151.1 1064.5 151.1 1068.4 151.7C1072.3 152.3 1076.2 153.1 1080.1 154.1C1084 155.1 1087.9 156.4 1091.7 157.8C1095.6 159.2 1099.5 160.9 1103.4 162.5C1107.3 164.1 1111.2 165.6 1115.1 167.1C1119 168.6 1122.9 170.4 1126.8 171.6C1130.7 172.8 1134.6 173.8 1138.5 174.5C1142.3 175.2 1146.2 174.8 1150.1 175.5C1154 176.2 1157.9 177.2 1161.8 178.4C1165.7 179.6 1169.6 180.8 1173.5 182.9C1177.4 184.9 1181.3 187.3 1185.2 190.7C1189.1 194.1 1192.9 198.3 1196.8 203.3C1200.7 208.3 1204.6 213.8 1208.5 220.6C1212.4 227.4 1216.3 235.1 1220.2 244C1224.1 252.9 1228 262.3 1231.9 273.8C1235.8 285.3 1239.7 298.2 1243.6 313C1247.4 327.8 1251.3 344.4 1255.2 362.4C1259.1 380.4 1265 411.2 1266.9 421L1266.9 425.4C1265 415.7 1259.1 385.1 1255.2 367.2C1251.3 349.3 1247.4 332.8 1243.6 318.2C1239.7 303.6 1235.8 290.8 1231.9 279.4C1228 268 1224.1 258.7 1220.2 250C1216.3 241.3 1212.4 233.7 1208.5 227C1204.6 220.3 1200.7 214.9 1196.8 210.1C1192.9 205.2 1189.1 201.2 1185.2 197.9C1181.3 194.6 1177.4 192.4 1173.5 190.5C1169.6 188.6 1165.7 187.5 1161.8 186.4C1157.9 185.3 1154 184.4 1150.1 183.9C1146.2 183.4 1142.3 183.8 1138.5 183.3C1134.6 182.8 1130.7 181.9 1126.8 180.8C1122.9 179.7 1119 178.1 1115.1 176.7C1111.2 175.3 1107.3 173.9 1103.4 172.5C1099.5 171.1 1095.6 169.5 1091.7 168.2C1087.9 166.9 1084 165.8 1080.1 164.9C1076.2 164 1072.3 163.3 1068.4 162.9C1064.5 162.5 1060.6 162.5 1056.7 162.3C1052.8 162.1 1048.9 161.3 1045 161.5C1041.1 161.7 1037.2 162.3 1033.4 163.7C1029.5 165.1 1025.6 167.3 1021.7 169.9C1017.8 172.5 1013.9 175.7 1010 179.3C1006.1 182.9 1002.2 187.1 998.3 191.3C994.4 195.6 990.5 200.1 986.6 204.8C982.8 209.6 976.9 217.3 975 219.8Z" fill="#ff0000" fill-opacity="0.2" stroke="#ff0000" stroke-opacity="0.45" stroke-width="1.1"/>
<path d="M975 209.3L986.6 195.8L998.3 183.8L1010 172.5L1021.7 163.5L1033.4 157.5L1045 155.5L1056.7 156.5L1068.4 157.3L1080.1 159.5L1091.7 163L1103.4 167.5L1115.1 171.9L1126.8 176.2L1138.5 178.9L1150.1 179.7L1161.8 182.4L1173.5 186.7L1185.2 194.3L1196.8 206.7L1208.5 223.8L1220.2 247L1231.9 276.6L1243.6 315.6L1255.2 364.8L1266.9 423.2" fill="none" stroke="#ff0000" stroke-width="2.0" stroke-dasharray="2 4" stroke-linejoin="round"/>
<path d="M967.8 209.3H982.2M975 202.1V216.5M979.4 195.8H993.8M986.6 188.6V203M991.1 183.8H1005.5M998.3 176.6V191M1002.8 172.5H1017.2M1010 165.3V179.7M1014.5 163.5H1028.9M1021.7 156.3V170.7M1026.2 157.5H1040.6M1033.4 150.3V164.7M1037.8 155.5H1052.2M1045 148.3V162.7M1049.5 156.5H1063.9M1056.7 149.3V163.7M1061.2 157.3H1075.6M1068.4 150.1V164.5M1072.9 159.5H1087.3M1080.1 152.3V166.7M1084.5 163H1098.9M1091.7 155.8V170.2M1096.2 167.5H1110.6M1103.4 160.3V174.7M1107.9 171.9H1122.3M1115.1 164.7V179.1M1119.6 176.2H1134M1126.8 169V183.4M1131.3 178.9H1145.7M1138.5 171.7V186.1M1142.9 179.7H1157.3M1150.1 172.5V186.9M1154.6 182.4H1169M1161.8 175.2V189.6M1166.3 186.7H1180.7M1173.5 179.5V193.9M1178 194.3H1192.4M1185.2 187.1V201.5M1189.6 206.7H1204M1196.8 199.5V213.9M1201.3 223.8H1215.7M1208.5 216.6V231M1213 247H1227.4M1220.2 239.8V254.2M1224.7 276.6H1239.1M1231.9 269.4V283.8M1236.4 315.6H1250.8M1243.6 308.4V322.8M1248 364.8H1262.4M1255.2 357.6V372M1259.7 423.2H1274.1M1266.9 416V430.4" stroke="#ff0000" stroke-width="3.0" fill="none"/>
</g>
<path d="M167.4 1137.8V1133.6M167.4 722.8V727M190.9 1137.8V1133.6M190.9 722.8V727M214.3 1137.8V1133.6M214.3 722.8V727M237.8 1137.8V1131.2M237.8 722.8V729.4M261.2 1137.8V1133.6M261.2 722.8V727M284.7 1137.8V1133.6M284.7 722.8V727M308.1 1137.8V1133.6M308.1 722.8V727M331.6 1137.8V1131.2M331.6 722.8V729.4M355 1137.8V1133.6M355 722.8V727M378.4 1137.8V1133.6M378.4 722.8V727M401.9 1137.8V1133.6M401.9 722.8V727M425.3 1137.8V1131.2M425.3 722.8V729.4M448.8 1137.8V1133.6M448.8 722.8V727M472.2 1137.8V1133.6M472.2 722.8V727M495.7 1137.8V1133.6M495.7 722.8V727M519.1 1137.8V1131.2M519.1 722.8V729.4M542.6 1137.8V1133.6M542.6 722.8V727M566 1137.8V1133.6M566 722.8V727M589.5 1137.8V1133.6M589.5 722.8V727M144 1075.3H148.2M612.9 1075.3H608.7M144 1038.8H148.2M612.9 1038.8H608.7M144 1012.9H148.2M612.9 1012.9H608.7M144 992.8H148.2M612.9 992.8H608.7M144 976.3H148.2M612.9 976.3H608.7M144 962.4H148.2M612.9 962.4H608.7M144 950.4H148.2M612.9 950.4H608.7M144 939.8H148.2M612.9 939.8H608.7M144 930.3H150.6M612.9 930.3H606.3M144 867.8H148.2M612.9 867.8H608.7M144 831.3H148.2M612.9 831.3H608.7M144 805.4H148.2M612.9 805.4H608.7M144 785.3H148.2M612.9 785.3H608.7M144 768.8H148.2M612.9 768.8H608.7M144 754.9H148.2M612.9 754.9H608.7M144 742.9H148.2M612.9 742.9H608.7M144 732.3H148.2M612.9 732.3H608.7" stroke="#262626" stroke-width="4" fill="none"/>
<rect x="144" y="722.8" width="468.9" height="415" fill="none" stroke="#262626" stroke-width="4" stroke-linejoin="miter"/>
<text x="143.2" y="1183.3" text-anchor="middle" textLength="18.3" lengthAdjust="spacingAndGlyphs" style="font-family:'Liberation Sans',Arial,sans-serif;font-weight:bold;fill:#262626;font-size:34.5px">0</text>
<text x="237" y="1183.3" text-anchor="middle" textLength="45.8" lengthAdjust="spacingAndGlyphs" style="font-family:'Liberation Sans',Arial,sans-serif;font-weight:bold;fill:#262626;font-size:34.5px">0.2</text>
<text x="330.8" y="1183.3" text-anchor="middle" textLength="45.8" lengthAdjust="spacingAndGlyphs" style="font-family:'Liberation Sans',Arial,sans-serif;font-weight:bold;fill:#262626;font-size:34.5px">0.4</text>
<text x="424.5" y="1183.3" text-anchor="middle" textLength="45.8" lengthAdjust="spacingAndGlyphs" style="font-family:'Liberation Sans',Arial,sans-serif;font-weight:bold;fill:#262626;font-size:34.5px">0.6</text>
<text x="518.3" y="1183.3" text-anchor="middle" textLength="45.8" lengthAdjust="spacingAndGlyphs" style="font-family:'Liberation Sans',Arial,sans-serif;font-weight:bold;fill:#262626;font-size:34.5px">0.8</text>
<text x="612.1" y="1183.3" text-anchor="middle" textLength="18.3" lengthAdjust="spacingAndGlyphs" style="font-family:'Liberation Sans',Arial,sans-serif;font-weight:bold;fill:#262626;font-size:34.5px">1</text>
<text x="133" y="1155.1" text-anchor="end" style="font-family:'Liberation Sans',Arial,sans-serif;font-weight:bold;fill:#262626;font-size:33.5px">10<tspan dx="2" dy="-16" style="font-size:26.5px">-1</tspan></text>
<text x="133" y="947.6" text-anchor="end" style="font-family:'Liberation Sans',Arial,sans-serif;font-weight:bold;fill:#262626;font-size:33.5px">10<tspan dx="2" dy="-16" style="font-size:26.5px">0</tspan></text>
<text x="133" y="740.1" text-anchor="end" style="font-family:'Liberation Sans',Arial,sans-serif;font-weight:bold;fill:#262626;font-size:33.5px">10<tspan dx="2" dy="-16" style="font-size:26.5px">1</tspan></text>
<text x="379.6" y="1233.2" text-anchor="middle" style="font-family:'Liberation Serif','Times New Roman',serif;font-size:35px;fill:#262626;font-style:italic" stroke="#262626" stroke-width="0.7">ρ</text>
<g clip-path="url(#clipc)">
<path d="M159.8 914C160.4 911 162.2 901.2 163.5 896C164.8 890.8 166 885.5 167.2 882.5C168.5 879.5 169.6 879.1 171 878C172.4 876.9 173.7 875.2 175.5 875.8C177.3 876.2 179.8 879.1 182 881C184.2 882.9 186.1 885 189 887C191.9 889 195.8 891.8 199.5 893C203.2 894.2 207 894.8 211.5 894.5C216 894.2 221.5 893 226.5 891.5C231.5 890 236.5 887.2 241.5 885.5C246.5 883.8 250.2 882.4 256.5 881C262.8 879.6 272.8 877.9 279 877.2C285.2 876.6 289 876.9 294 877.2C299 877.6 304 878.1 309 879.5C314 880.9 319 883.2 324 885.5C329 887.8 334 890.8 339 893C344 895.2 349 897.5 354 899C359 900.5 364 901.4 369 902C374 902.6 378.2 902.1 384 902.8C389.8 903.4 398.2 905.2 404 906C409.8 906.8 414 907.3 419 907.5C424 907.7 429 907.6 434 907.2C439 906.8 444 905.8 449 905.2C454 904.7 459 903.8 464 903.8C469 903.8 474 904.5 479 905.2C484 906 489 907.2 494 908.2C499 909.2 504 910.2 509 911.2C514 912.2 519 913.2 524 914.2C529 915.2 534 916.4 539 917.2C544 918.1 549 919 554 919.5C559 920 564 920.4 569 920C574 919.6 579.5 918.8 584 917C588.5 915.2 592.5 912 596 909C599.5 906 603.5 900.7 605 899L605 909.5C603.5 911.1 599.5 916 596 919C592.5 922 588.5 925.6 584 927.5C579.5 929.4 574 930.2 569 930.5C564 930.8 559 930 554 929.5C549 929 544 928.1 539 927.2C534 926.4 529 925.2 524 924.2C519 923.2 514 922.2 509 921.2C504 920.2 499 919.2 494 918.2C489 917.2 484 916 479 915.2C474 914.5 469 913.8 464 913.8C459 913.8 454 914.7 449 915.2C444 915.8 439 916.8 434 917.2C429 917.6 424 917.7 419 917.5C414 917.3 409.8 916.7 404 916C398.2 915.3 389.8 913.7 384 913.2C378.2 912.8 374 913.5 369 913.2C364 913 359 912.9 354 911.8C349 910.6 344 908.6 339 906.5C334 904.4 329 901.2 324 899C319 896.8 314 894.5 309 893C304 891.5 299 890.6 294 890C289 889.4 284 889.2 279 889.2C274 889.2 269 889.4 264 890C259 890.6 254 891 249 893C244 895 239 898.5 234 902C229 905.5 224 910.8 219 914C214 917.2 208.2 919.5 204 921.5C199.8 923.5 196.3 924.1 193.5 926C190.7 927.9 189 930.2 187 933C185 935.8 183.3 937.2 181.5 942.5C179.7 947.8 177.8 957.9 176.2 965C174.6 972.1 173.3 977.8 172 985C170.7 992.2 169.5 1001.5 168.2 1008.3C166.9 1015.1 165.4 1019.6 164 1026C162.6 1032.4 160.4 1043.2 159.7 1046.6Z" fill="#0000ff" fill-opacity="0.2" stroke="#0000ff" stroke-opacity="0.45" stroke-width="1.1"/>
<path d="M159 957.5C159.3 955.6 160.2 949.8 161 946C161.8 942.2 162.7 938.3 163.5 935C164.3 931.7 165.1 928.8 166 926C166.9 923.2 167.7 920.9 169 918.5C170.3 916.1 172.4 913.6 174 911.8C175.6 909.9 177 908.5 178.5 907.5C180 906.5 181.2 906 183 905.5C184.8 905 187 904.9 189 904.8C191 904.7 193 904.8 195 905C197 905.2 199 905.8 201 906C203 906.2 205 906.4 207 906.2C209 906 211 905.5 213 905C215 904.5 215.5 905 219 903.5C222.5 902 229 898.4 234 896C239 893.6 244 891 249 889.2C254 887.5 259 886.4 264 885.5C269 884.6 274 884.2 279 884C284 883.8 289 883.8 294 884.3C299 884.8 304 885.7 309 887C314 888.3 319 890.2 324 892.2C329 894.2 334 897 339 899C344 901 349 902.9 354 904.2C359 905.6 364 906.4 369 907C374 907.6 378.2 907.3 384 908C389.8 908.7 398.2 910.2 404 911C409.8 911.8 414 912.3 419 912.5C424 912.7 429 912.6 434 912.2C439 911.8 444 910.8 449 910.2C454 909.7 459 908.8 464 908.8C469 908.8 474 909.5 479 910.2C484 911 489 912.2 494 913.2C499 914.2 504 915.2 509 916.2C514 917.2 519 918.2 524 919.2C529 920.2 534 921.4 539 922.2C544 923.1 549 924 554 924.5C559 925 564 925.6 569 925.2C574 924.9 579.5 924.1 584 922.2C588.5 920.4 592.5 917 596 914C599.5 911 603.5 905.9 605 904.2" fill="none" stroke="#0000ff" stroke-width="5" stroke-linejoin="round" stroke-linecap="butt"/>
<path d="M159 974C160.2 969.3 163.5 954 166 946C168.5 938 171.5 931.3 174 926C176.5 920.7 178.5 917.2 181 914C183.5 910.8 185.2 909 189 906.5C192.8 904 199 901.5 204 899C209 896.5 214 894.5 219 891.5C224 888.5 229 884.5 234 881C239 877.5 244 873.5 249 870.5C254 867.5 259 865 264 863C269 861 274 859.6 279 858.5C284 857.4 289 856.6 294 856.2C299 855.9 304 855.9 309 856.2C314 856.6 319 857.5 324 858.5C329 859.5 334 860.8 339 862.2C344 863.8 348.2 865.7 354 867.5C359.8 869.3 368.2 871.1 374 873C379.8 874.9 384 877.1 389 879C394 880.9 399 882.7 404 884.5C409 886.3 414 888 419 889.8C424 891.5 429 893.1 434 895C439 896.9 444 898.9 449 901C454 903.1 459 905.2 464 907.8C469 910.2 474 913.5 479 916C484 918.5 489 921 494 922.8C499 924.5 504 925.6 509 926.5C514 927.4 519 928 524 928C529 928 534 927.5 539 926.5C544 925.5 549 923.8 554 922C559 920.2 564 918 569 916C574 914 579.5 912.1 584 910C588.5 907.9 592.5 905.4 596 903.5C599.5 901.6 603.5 899.3 605 898.5L605 907.5C603.5 908.2 599.5 910.2 596 912C592.5 913.8 588.5 916 584 918C579.5 920 574 922 569 924C564 926 559 928.2 554 930C549 931.8 544 933.5 539 934.5C534 935.5 529 936 524 936C519 936 514 935.4 509 934.5C504 933.6 499 932.5 494 930.8C489 929 484 926.5 479 924C474 921.5 469 918.2 464 915.8C459 913.2 454 911.1 449 909C444 906.9 439 904.9 434 903C429 901.1 424 899.5 419 897.8C414 896 409 894.2 404 892.5C399 890.8 394 889.1 389 887.5C384 885.9 379.8 884.3 374 883C368.2 881.7 362.3 881.1 354 879.5C345.7 877.9 331.5 874.8 324 873.5C316.5 872.2 314 872 309 872C304 872 300.2 872.5 294 873.5C287.8 874.5 277.8 876.2 271.5 878C265.2 879.8 261.5 881.5 256.5 884C251.5 886.5 246.5 889.2 241.5 893C236.5 896.8 231.5 902.2 226.5 906.5C221.5 910.8 216.5 915 211.5 918.5C206.5 922 201.5 923.8 196.5 927.5C191.5 931.2 185.2 935.2 181.5 941C177.8 946.8 176.6 955.2 174 962C171.4 968.8 168.4 974.3 166 982C163.6 989.7 160.8 1003.9 159.7 1008.3Z" fill="#ff0000" fill-opacity="0.2" stroke="#ff0000" stroke-opacity="0.45" stroke-width="1.1"/>
<path d="M159.3 989.8C159.8 987.3 161.3 980.1 162.5 975C163.7 969.9 165.2 963.2 166.5 959C167.8 954.8 168.8 952.8 170 950C171.2 947.2 171.6 946.5 174 942.5C176.4 938.5 180.8 930.5 184.5 926C188.2 921.5 192 918.8 196.5 915.5C201 912.2 206.5 909.5 211.5 906.5C216.5 903.5 221.5 900.8 226.5 897.5C231.5 894.2 236.5 890.2 241.5 887C246.5 883.8 251.5 880.5 256.5 878C261.5 875.5 266.5 873.8 271.5 872C276.5 870.2 281.5 868.7 286.5 867.5C291.5 866.3 296.5 865.2 301.5 864.8C306.5 864.3 311.5 864.3 316.5 864.8C321.5 865.2 326.5 866.4 331.5 867.5C336.5 868.6 341.5 869.9 346.5 871.2C351.5 872.6 356.9 874.5 361.5 875.8C366.1 877 369.4 877.2 374 878.5C378.6 879.8 384 881.6 389 883.2C394 884.9 399 886.8 404 888.5C409 890.2 414 892 419 893.8C424 895.5 429 897.1 434 899C439 900.9 444 902.9 449 905C454 907.1 459 909.2 464 911.8C469 914.2 474 917.5 479 920C484 922.5 489 925 494 926.8C499 928.5 504 929.6 509 930.5C514 931.4 519 932 524 932C529 932 534 931.5 539 930.5C544 929.5 549 927.8 554 926C559 924.2 564 922 569 920C574 918 579.5 916 584 914C588.5 912 592.5 909.8 596 908C599.5 906.2 603.5 904.2 605 903.5" fill="none" stroke="#ff0000" stroke-width="5" stroke-linejoin="round" stroke-linecap="butt"/>
<path d="M290.5 1029.5C292.5 1028.6 298.3 1025.6 302.3 1024.1C306.2 1022.6 310.1 1021.4 314 1020.5C317.9 1019.7 321.8 1019.4 325.7 1018.9C329.6 1018.4 333.5 1018 337.4 1017.6C341.3 1017.3 345.2 1017 349.1 1016.9C353.1 1016.7 357 1016.8 360.9 1016.7C364.8 1016.6 368.7 1016.5 372.6 1016.4C376.5 1016.3 380.4 1016.3 384.3 1016.2C388.2 1016.1 392.1 1016 396 1015.9C399.9 1015.7 403.8 1015.7 407.8 1015.6C411.7 1015.4 415.6 1015.1 419.5 1015C423.4 1014.9 427.3 1015.1 431.2 1015.2C435.1 1015.3 439 1015.4 442.9 1015.8C446.8 1016.2 450.7 1016.7 454.6 1017.5C458.6 1018.4 462.5 1019.6 466.4 1021C470.3 1022.4 474.2 1023.8 478.1 1025.9C482 1028 485.9 1030.9 489.8 1033.6C493.7 1036.3 497.6 1038.7 501.5 1042.2C505.4 1045.7 509.4 1049.7 513.3 1054.6C517.2 1059.6 521.1 1065.4 525 1071.7C528.9 1078.1 532.8 1084.6 536.7 1092.6C540.6 1100.5 544.5 1108.5 548.4 1119.4C552.3 1130.3 558.2 1151.6 560.1 1158L560.1 1162C558.2 1155.6 552.3 1134.6 548.4 1123.8C544.5 1113.1 540.6 1105.2 536.7 1097.4C532.8 1089.6 528.9 1083.2 525 1077.1C521.1 1070.9 517.2 1065.1 513.3 1060.4C509.4 1055.6 505.4 1051.7 501.5 1048.4C497.6 1045 493.7 1042.8 489.8 1040.2C485.9 1037.6 482 1034.9 478.1 1032.9C474.2 1031 470.3 1029.7 466.4 1028.4C462.5 1027.2 458.6 1026.2 454.6 1025.5C450.7 1024.7 446.8 1024.4 442.9 1024.2C439 1023.9 435.1 1024 431.2 1024C427.3 1024 423.4 1024 419.5 1024.2C415.6 1024.4 411.7 1024.9 407.8 1025.2C403.8 1025.5 399.9 1025.7 396 1025.9C392.1 1026.2 388.2 1026.5 384.3 1026.8C380.4 1027 376.5 1027.2 372.6 1027.4C368.7 1027.6 364.8 1027.9 360.9 1028.1C357 1028.3 353.1 1028.4 349.1 1028.7C345.2 1029 341.3 1029.4 337.4 1029.9C333.5 1030.4 329.6 1031 325.7 1031.6C321.8 1032.2 317.9 1032.7 314 1033.7C310.1 1034.7 306.2 1036 302.3 1037.7C298.3 1039.3 292.5 1042.5 290.5 1043.5Z" fill="#0000ff" fill-opacity="0.2" stroke="#0000ff" stroke-opacity="0.45" stroke-width="1.1"/>
<path d="M290.5 1036.5L302.3 1030.9L314 1027.1L325.7 1025.2L337.4 1023.8L349.1 1022.8L360.9 1022.4L372.6 1021.9L384.3 1021.5L396 1020.9L407.8 1020.4L419.5 1019.6L431.2 1019.6L442.9 1020L454.6 1021.5L466.4 1024.7L478.1 1029.4L489.8 1036.9L501.5 1045.3L513.3 1057.5L525 1074.4L536.7 1095L548.4 1121.6L560.1 1160" fill="none" stroke="#0000ff" stroke-width="2.4" stroke-linejoin="round"/>
<path d="M283.3 1036.5H297.7M290.5 1029.3V1043.7M295.1 1030.9H309.5M302.3 1023.7V1038.1M306.8 1027.1H321.2M314 1019.9V1034.3M318.5 1025.2H332.9M325.7 1018V1032.5M330.2 1023.8H344.6M337.4 1016.5V1031M341.9 1022.8H356.3M349.1 1015.6V1030M353.7 1022.4H368.1M360.9 1015.2V1029.6M365.4 1021.9H379.8M372.6 1014.7V1029.1M377.1 1021.5H391.5M384.3 1014.3V1028.7M388.8 1020.9H403.2M396 1013.7V1028.1M400.6 1020.4H415M407.8 1013.2V1027.6M412.3 1019.6H426.7M419.5 1012.4V1026.8M424 1019.6H438.4M431.2 1012.4V1026.8M435.7 1020H450.1M442.9 1012.8V1027.2M447.4 1021.5H461.8M454.6 1014.3V1028.7M459.2 1024.7H473.6M466.4 1017.5V1031.9M470.9 1029.4H485.3M478.1 1022.2V1036.6M482.6 1036.9H497M489.8 1029.7V1044.1M494.3 1045.3H508.7M501.5 1038.1V1052.5M506.1 1057.5H520.5M513.3 1050.3V1064.7M517.8 1074.4H532.2M525 1067.2V1081.6M529.5 1095H543.9M536.7 1087.8V1102.2M541.2 1121.6H555.6M548.4 1114.4V1128.8" stroke="#0000ff" stroke-width="3.0" fill="none"/>
<path d="M290.5 1000.6C292.5 999.4 298.3 995.2 302.3 993.2C306.2 991.2 310.1 989.9 314 988.5C317.9 987.1 321.8 985.9 325.7 984.8C329.6 983.7 333.5 982.9 337.4 982.1C341.3 981.2 345.2 980.3 349.1 979.7C353.1 979.1 357 979 360.9 978.5C364.8 978 368.7 977.1 372.6 976.7C376.5 976.2 380.4 976 384.3 975.8C388.2 975.6 392.1 975.3 396 975.5C399.9 975.7 403.8 976.5 407.8 976.9C411.7 977.3 415.6 977 419.5 977.9C423.4 978.7 427.3 980.4 431.2 981.7C435.1 983 439 983.9 442.9 985.5C446.8 987.1 450.7 989 454.6 991.2C458.6 993.4 462.5 995.6 466.4 998.8C470.3 1001.9 474.2 1006 478.1 1010.1C482 1014.2 485.9 1018.2 489.8 1023.3C493.7 1028.3 497.6 1034.4 501.5 1040.2C505.4 1046 509.4 1051.2 513.3 1058.1C517.2 1065 521.1 1073 525 1081.6C528.9 1090.2 532.8 1099.6 536.7 1109.8C540.6 1120.1 546.5 1137.5 548.4 1143L548.4 1147C546.5 1141.5 540.6 1124.2 536.7 1114C532.8 1103.8 528.9 1094.5 525 1085.9C521.1 1077.3 517.2 1069.4 513.3 1062.5C509.4 1055.7 505.4 1050.5 501.5 1044.8C497.6 1039 493.7 1032.9 489.8 1027.9C485.9 1023 482 1018.9 478.1 1014.9C474.2 1010.9 470.3 1006.8 466.4 1003.7C462.5 1000.6 458.6 998.5 454.6 996.3C450.7 994.1 446.8 992.2 442.9 990.7C439 989.2 435.1 988.3 431.2 987.1C427.3 985.9 423.4 984.1 419.5 983.4C415.6 982.6 411.7 982.9 407.8 982.5C403.8 982.2 399.9 981.4 396 981.3C392.1 981.2 388.2 981.5 384.3 981.7C380.4 981.9 376.5 982.2 372.6 982.7C368.7 983.2 364.8 984.1 360.9 984.7C357 985.2 353.1 985.4 349.1 986.1C345.2 986.7 341.3 987.6 337.4 988.5C333.5 989.4 329.6 990.3 325.7 991.4C321.8 992.5 317.9 993.8 314 995.3C310.1 996.7 306.2 998 302.3 1000C298.3 1002.1 292.5 1006.3 290.5 1007.6Z" fill="#ff0000" fill-opacity="0.2" stroke="#ff0000" stroke-opacity="0.45" stroke-width="1.1"/>
<path d="M290.5 1004.1L302.3 996.6L314 991.9L325.7 988.1L337.4 985.3L349.1 982.9L360.9 981.6L372.6 979.7L384.3 978.8L396 978.4L407.8 979.7L419.5 980.6L431.2 984.4L442.9 988.1L454.6 993.8L466.4 1001.2L478.1 1012.5L489.8 1025.6L501.5 1042.5L513.3 1060.3L525 1083.8L536.7 1111.9L548.4 1145" fill="none" stroke="#ff0000" stroke-width="2.4" stroke-linejoin="round"/>
<path d="M283.3 1004.1H297.7M290.5 996.9V1011.3M295.1 996.6H309.5M302.3 989.4V1003.8M306.8 991.9H321.2M314 984.7V999.1M318.5 988.1H332.9M325.7 980.9V995.3M330.2 985.3H344.6M337.4 978.1V992.5M341.9 982.9H356.3M349.1 975.7V990.1M353.7 981.6H368.1M360.9 974.4V988.8M365.4 979.7H379.8M372.6 972.5V986.9M377.1 978.8H391.5M384.3 971.5V986M388.8 978.4H403.2M396 971.2V985.6M400.6 979.7H415M407.8 972.5V986.9M412.3 980.6H426.7M419.5 973.4V987.8M424 984.4H438.4M431.2 977.2V991.6M435.7 988.1H450.1M442.9 980.9V995.3M447.4 993.8H461.8M454.6 986.5V1001M459.2 1001.2H473.6M466.4 994V1008.5M470.9 1012.5H485.3M478.1 1005.3V1019.7M482.6 1025.6H497M489.8 1018.4V1032.8M494.3 1042.5H508.7M501.5 1035.3V1049.7M506.1 1060.3H520.5M513.3 1053.1V1067.5M517.8 1083.8H532.2M525 1076.5V1091M529.5 1111.9H543.9M536.7 1104.7V1119.1" stroke="#ff0000" stroke-width="3.0" fill="none"/>
</g>
<path d="M852.4 1137.8V1133.6M852.4 722.8V727M875.7 1137.8V1133.6M875.7 722.8V727M899.1 1137.8V1133.6M899.1 722.8V727M922.4 1137.8V1131.2M922.4 722.8V729.4M945.8 1137.8V1133.6M945.8 722.8V727M969.1 1137.8V1133.6M969.1 722.8V727M992.5 1137.8V1133.6M992.5 722.8V727M1015.8 1137.8V1131.2M1015.8 722.8V729.4M1039.2 1137.8V1133.6M1039.2 722.8V727M1062.5 1137.8V1133.6M1062.5 722.8V727M1085.9 1137.8V1133.6M1085.9 722.8V727M1109.3 1137.8V1131.2M1109.3 722.8V729.4M1132.6 1137.8V1133.6M1132.6 722.8V727M1156 1137.8V1133.6M1156 722.8V727M1179.3 1137.8V1133.6M1179.3 722.8V727M1202.7 1137.8V1131.2M1202.7 722.8V729.4M1226 1137.8V1133.6M1226 722.8V727M1249.4 1137.8V1133.6M1249.4 722.8V727M1272.7 1137.8V1133.6M1272.7 722.8V727M829 1075.3H833.2M1296.1 1075.3H1291.9M829 1038.8H833.2M1296.1 1038.8H1291.9M829 1012.9H833.2M1296.1 1012.9H1291.9M829 992.8H833.2M1296.1 992.8H1291.9M829 976.3H833.2M1296.1 976.3H1291.9M829 962.4H833.2M1296.1 962.4H1291.9M829 950.4H833.2M1296.1 950.4H1291.9M829 939.8H833.2M1296.1 939.8H1291.9M829 930.3H835.6M1296.1 930.3H1289.5M829 867.8H833.2M1296.1 867.8H1291.9M829 831.3H833.2M1296.1 831.3H1291.9M829 805.4H833.2M1296.1 805.4H1291.9M829 785.3H833.2M1296.1 785.3H1291.9M829 768.8H833.2M1296.1 768.8H1291.9M829 754.9H833.2M1296.1 754.9H1291.9M829 742.9H833.2M1296.1 742.9H1291.9M829 732.3H833.2M1296.1 732.3H1291.9" stroke="#262626" stroke-width="4" fill="none"/>
<rect x="829" y="722.8" width="467.1" height="415" fill="none" stroke="#262626" stroke-width="4" stroke-linejoin="miter"/>
<text x="828.2" y="1183.3" text-anchor="middle" textLength="18.3" lengthAdjust="spacingAndGlyphs" style="font-family:'Liberation Sans',Arial,sans-serif;font-weight:bold;fill:#262626;font-size:34.5px">0</text>
<text x="921.6" y="1183.3" text-anchor="middle" textLength="45.8" lengthAdjust="spacingAndGlyphs" style="font-family:'Liberation Sans',Arial,sans-serif;font-weight:bold;fill:#262626;font-size:34.5px">0.2</text>
<text x="1015" y="1183.3" text-anchor="middle" textLength="45.8" lengthAdjust="spacingAndGlyphs" style="font-family:'Liberation Sans',Arial,sans-serif;font-weight:bold;fill:#262626;font-size:34.5px">0.4</text>
<text x="1108.5" y="1183.3" text-anchor="middle" textLength="45.8" lengthAdjust="spacingAndGlyphs" style="font-family:'Liberation Sans',Arial,sans-serif;font-weight:bold;fill:#262626;font-size:34.5px">0.6</text>
<text x="1201.9" y="1183.3" text-anchor="middle" textLength="45.8" lengthAdjust="spacingAndGlyphs" style="font-family:'Liberation Sans',Arial,sans-serif;font-weight:bold;fill:#262626;font-size:34.5px">0.8</text>
<text x="1295.3" y="1183.3" text-anchor="middle" textLength="18.3" lengthAdjust="spacingAndGlyphs" style="font-family:'Liberation Sans',Arial,sans-serif;font-weight:bold;fill:#262626;font-size:34.5px">1</text>
<text x="818" y="1155.1" text-anchor="end" style="font-family:'Liberation Sans',Arial,sans-serif;font-weight:bold;fill:#262626;font-size:33.5px">10<tspan dx="2" dy="-16" style="font-size:26.5px">-1</tspan></text>
<text x="818" y="947.6" text-anchor="end" style="font-family:'Liberation Sans',Arial,sans-serif;font-weight:bold;fill:#262626;font-size:33.5px">10<tspan dx="2" dy="-16" style="font-size:26.5px">0</tspan></text>
<text x="818" y="740.1" text-anchor="end" style="font-family:'Liberation Sans',Arial,sans-serif;font-weight:bold;fill:#262626;font-size:33.5px">10<tspan dx="2" dy="-16" style="font-size:26.5px">1</tspan></text>
<text x="1063.8" y="1233.2" text-anchor="middle" style="font-family:'Liberation Serif','Times New Roman',serif;font-size:35px;fill:#262626;font-style:italic" stroke="#262626" stroke-width="0.7">ρ</text>
<g clip-path="url(#clipd)">
<path d="M844.8 844.2C849.6 843.8 864.1 842.2 874 841.2C883.9 840.2 894 839.1 904 838.2C914 837.4 924 836.8 934 836C944 835.2 954 834.8 964 833.8C974 832.8 984 831.9 994 830C1004 828.1 1015.2 824.8 1024 822.3C1032.8 819.7 1040.5 816.6 1046.5 814.5C1052.5 812.4 1054 811.5 1060 809.6C1066 807.8 1075 805.9 1082.5 803.4C1090 801 1097.5 798.3 1105 795C1112.5 791.6 1120 787.1 1127.5 783.5C1135 779.9 1143.2 775.7 1150 773.5C1156.8 771.3 1162.5 770.6 1168 770.3C1173.5 770 1178 770.3 1183 771.7C1188 773 1193 775.1 1198 778.3C1203 781.5 1208 786 1213 790.9C1218 795.7 1223 801.8 1228 807.2C1233 812.7 1238.1 818.1 1243 823.6C1247.9 829 1253.4 835.2 1257.4 840C1261.4 844.8 1263.1 847.6 1267 852.4C1270.9 857.2 1277.1 865.8 1280.6 869C1284.1 872.2 1286.9 871.4 1288.2 871.9L1288.2 892.7C1284.7 888 1272.1 871.2 1267 864.4C1261.9 857.6 1261.4 856.8 1257.4 852C1253.4 847.2 1247.9 841 1243 835.4C1238.1 829.9 1233 824.3 1228 818.8C1223 813.2 1218 807.1 1213 802.1C1208 797.2 1203 792.5 1198 789.2C1193 785.9 1188 783.8 1183 782.3C1178 780.9 1173.5 780.5 1168 780.7C1162.5 780.9 1156.8 781.4 1150 783.5C1143.2 785.6 1135 789.6 1127.5 793C1120 796.4 1112.5 800.9 1105 804C1097.5 807.2 1090 809.8 1082.5 812.1C1075 814.4 1066 816.1 1060 817.9C1054 819.6 1052.5 820.5 1046.5 822.5C1040.5 824.4 1032.8 827.3 1024 829.7C1015.2 832.2 1004 835.2 994 837C984 838.8 974 839.8 964 840.8C954 841.8 944 842.2 934 843C924 843.8 914 844.4 904 845.2C894 846.1 883.9 847.2 874 848.2C864.1 849.2 849.6 850.8 844.8 851.2Z" fill="#0000ff" fill-opacity="0.2" stroke="#0000ff" stroke-opacity="0.45" stroke-width="1.1"/>
<path d="M844.8 847.8C849.6 847.2 864.1 845.8 874 844.8C883.9 843.8 894 842.6 904 841.8C914 840.9 924 840.2 934 839.5C944 838.8 954 838.2 964 837.2C974 836.2 984 835.4 994 833.5C1004 831.6 1015.2 828.5 1024 826C1032.8 823.5 1040.5 820.5 1046.5 818.5C1052.5 816.5 1054 815.5 1060 813.8C1066 812 1075 810.1 1082.5 807.8C1090 805.4 1097.5 802.8 1105 799.5C1112.5 796.2 1120 791.8 1127.5 788.2C1135 784.8 1143.2 780.6 1150 778.5C1156.8 776.4 1162.5 775.8 1168 775.5C1173.5 775.2 1178 775.6 1183 777C1188 778.4 1193 780.5 1198 783.8C1203 787 1208 791.6 1213 796.5C1218 801.4 1223 807.5 1228 813C1233 818.5 1238.1 824 1243 829.5C1247.9 835 1253.4 841.2 1257.4 846C1261.4 850.8 1263.8 854.1 1267 858.4C1270.2 862.7 1273.2 868.1 1276.7 872C1280.2 875.9 1286.3 880.3 1288.2 882" fill="none" stroke="#0000ff" stroke-width="5" stroke-dasharray="4.6 4.2" stroke-linejoin="round" stroke-linecap="butt"/>
<path d="M844.8 848C849.6 847.5 864.1 846 874 845C883.9 844 894 842.9 904 842C914 841.1 924 840.6 934 839.8C944 838.9 954 838 964 836.8C974 835.5 984 834.2 994 832.2C1004 830.2 1015.2 827.1 1024 824.8C1032.8 822.4 1040.5 819.7 1046.5 818C1052.5 816.3 1054 815.9 1060 814.8C1066 813.6 1075 812.4 1082.5 811C1090 809.6 1097.5 807.8 1105 806.5C1112.5 805.2 1121.2 804 1127.5 803.5C1133.8 803 1137.5 802.9 1142.5 803.5C1147.5 804.1 1152.5 805.5 1157.5 807.2C1162.5 809 1167.5 810.9 1172.5 814C1177.5 817.1 1182.5 821.4 1187.5 826C1192.5 830.6 1197.3 835.6 1202.5 841.5C1207.7 847.4 1212.8 854.1 1218.7 861.6C1224.6 869.1 1231.5 878.2 1238 886.8C1244.5 895.3 1250.2 903.1 1257.4 912.9C1264.7 922.7 1276.4 940 1281.5 945.5C1286.6 951 1287.1 945.9 1288.2 946L1288.2 959C1283.1 952.5 1265.8 930.8 1257.4 919.9C1249 909 1244.5 902.3 1238 893.8C1231.5 885.2 1224.6 876.1 1218.7 868.6C1212.8 861.1 1207.7 854.4 1202.5 848.5C1197.3 842.6 1192.5 837.6 1187.5 833C1182.5 828.4 1177.5 824.1 1172.5 821C1167.5 817.9 1162.5 816 1157.5 814.2C1152.5 812.5 1147.5 811.1 1142.5 810.5C1137.5 809.9 1133.8 810 1127.5 810.5C1121.2 811 1112.5 812.2 1105 813.5C1097.5 814.8 1090 816.6 1082.5 818C1075 819.4 1066 820.6 1060 821.8C1054 822.9 1052.5 823.3 1046.5 825C1040.5 826.7 1032.8 829.4 1024 831.8C1015.2 834.1 1004 837.2 994 839.2C984 841.2 974 842.5 964 843.8C954 845 944 845.9 934 846.8C924 847.6 914 848.1 904 849C894 849.9 883.9 851 874 852C864.1 853 849.6 854.5 844.8 855Z" fill="#ff0000" fill-opacity="0.2" stroke="#ff0000" stroke-opacity="0.45" stroke-width="1.1"/>
<path d="M844.8 851.5C849.6 851 864.1 849.5 874 848.5C883.9 847.5 894 846.4 904 845.5C914 844.6 924 844.1 934 843.2C944 842.4 954 841.5 964 840.2C974 839 984 837.8 994 835.8C1004 833.8 1015.2 830.6 1024 828.2C1032.8 825.9 1040.5 823.2 1046.5 821.5C1052.5 819.8 1054 819.4 1060 818.2C1066 817.1 1075 815.9 1082.5 814.5C1090 813.1 1097.5 811.2 1105 810C1112.5 808.8 1121.2 807.5 1127.5 807C1133.8 806.5 1137.5 806.4 1142.5 807C1147.5 807.6 1152.5 809 1157.5 810.8C1162.5 812.5 1167.5 814.4 1172.5 817.5C1177.5 820.6 1182.5 824.9 1187.5 829.5C1192.5 834.1 1197.3 839.1 1202.5 845C1207.7 850.9 1212.8 857.6 1218.7 865.1C1224.6 872.6 1231.5 881.8 1238 890.3C1244.5 898.8 1251 907.4 1257.4 916.4C1263.9 925.4 1272.6 938.7 1276.7 944.4C1280.8 950.1 1280.1 949.1 1282 950.5C1283.9 951.9 1287.2 952.2 1288.2 952.5" fill="none" stroke="#ff0000" stroke-width="5" stroke-dasharray="4.6 4.2" stroke-linejoin="round" stroke-linecap="butt"/>
<path d="M975 911C976.9 910.2 982.8 908.3 986.6 906C990.5 903.7 994.4 900.1 998.3 897.2C1002.2 894.2 1006.1 891.1 1010 888.4C1013.9 885.7 1017.8 882.9 1021.7 881.1C1025.6 879.3 1029.5 878.2 1033.4 877.6C1037.2 876.9 1041.1 876.7 1045 877C1048.9 877.3 1052.8 878.2 1056.7 879.5C1060.6 880.8 1064.5 882.8 1068.4 884.8C1072.3 886.8 1076.2 889.4 1080.1 891.7C1084 894 1087.9 896.1 1091.7 898.6C1095.6 901.1 1099.5 904.1 1103.4 906.7C1107.3 909.3 1111.2 911.9 1115.1 914.2C1119 916.6 1122.9 918.8 1126.8 920.8C1130.7 922.7 1134.6 923.9 1138.5 926C1142.3 928 1146.2 931.1 1150.1 932.9C1154 934.6 1157.9 935.2 1161.8 936.4C1165.7 937.5 1169.6 938.4 1173.5 939.7C1177.4 941 1181.3 942.1 1185.2 944.2C1189.1 946.3 1192.9 949 1196.8 952.1C1200.7 955.2 1204.6 958.3 1208.5 962.9C1212.4 967.5 1216.3 972.8 1220.2 979.6C1224.1 986.5 1228 995.2 1231.9 1004.1C1235.8 1012.9 1239.7 1021.7 1243.6 1032.7C1247.4 1043.6 1251.3 1055.8 1255.2 1069.6C1259.1 1083.4 1263 1097.5 1266.9 1115.5C1270.8 1133.5 1276.6 1167.2 1278.6 1177.5L1278.6 1182.5C1276.6 1172.2 1270.8 1138.8 1266.9 1120.9C1263 1103.1 1259.1 1089.1 1255.2 1075.4C1251.3 1061.8 1247.4 1049.7 1243.6 1038.9C1239.7 1028.2 1235.8 1019.4 1231.9 1010.7C1228 1002 1224.1 993.5 1220.2 986.8C1216.3 980 1212.4 974.9 1208.5 970.5C1204.6 966 1200.7 963.1 1196.8 960.1C1192.9 957.1 1189.1 954.5 1185.2 952.6C1181.3 950.7 1177.4 949.7 1173.5 948.5C1169.6 947.3 1165.7 946.6 1161.8 945.6C1157.9 944.6 1154 944.1 1150.1 942.5C1146.2 940.9 1142.3 937.9 1138.5 936C1134.6 934.2 1130.7 933.1 1126.8 931.2C1122.9 929.4 1119 927.4 1115.1 925.2C1111.2 923 1107.3 920.5 1103.4 918.1C1099.5 915.6 1095.6 912.8 1091.7 910.4C1087.9 908 1084 906 1080.1 903.8C1076.2 901.7 1072.3 899.3 1068.4 897.4C1064.5 895.5 1060.6 893.7 1056.7 892.5C1052.8 891.4 1048.9 890.7 1045 890.5C1041.1 890.3 1037.2 890.6 1033.4 891.4C1029.5 892.3 1025.6 893.5 1021.7 895.4C1017.8 897.3 1013.9 900.3 1010 903.1C1006.1 905.9 1002.2 909.3 998.3 912.3C994.4 915.4 990.5 919.1 986.6 921.5C982.8 924 976.9 926.1 975 927Z" fill="#0000ff" fill-opacity="0.2" stroke="#0000ff" stroke-opacity="0.45" stroke-width="1.1"/>
<path d="M975 919L986.6 913.8L998.3 904.8L1010 895.8L1021.7 888.2L1033.4 884.5L1045 883.8L1056.7 886L1068.4 891.1L1080.1 897.8L1091.7 904.5L1103.4 912.4L1115.1 919.7L1126.8 926L1138.5 931L1150.1 937.7L1161.8 941L1173.5 944.1L1185.2 948.4L1196.8 956.1L1208.5 966.7L1220.2 983.2L1231.9 1007.4L1243.6 1035.8L1255.2 1072.5L1266.9 1118.2L1278.6 1180" fill="none" stroke="#0000ff" stroke-width="2.0" stroke-dasharray="2 4" stroke-linejoin="round"/>
<path d="M967.8 919H982.2M975 911.8V926.2M979.4 913.8H993.8M986.6 906.5V921M991.1 904.8H1005.5M998.3 897.5V912M1002.8 895.8H1017.2M1010 888.5V903M1014.5 888.2H1028.9M1021.7 881V895.5M1026.2 884.5H1040.6M1033.4 877.3V891.7M1037.8 883.8H1052.2M1045 876.5V891M1049.5 886H1063.9M1056.7 878.8V893.2M1061.2 891.1H1075.6M1068.4 883.9V898.3M1072.9 897.8H1087.3M1080.1 890.5V905M1084.5 904.5H1098.9M1091.7 897.3V911.7M1096.2 912.4H1110.6M1103.4 905.2V919.6M1107.9 919.7H1122.3M1115.1 912.5V926.9M1119.6 926H1134M1126.8 918.8V933.2M1131.3 931H1145.7M1138.5 923.8V938.2M1142.9 937.7H1157.3M1150.1 930.5V944.9M1154.6 941H1169M1161.8 933.8V948.2M1166.3 944.1H1180.7M1173.5 936.9V951.3M1178 948.4H1192.4M1185.2 941.2V955.6M1189.6 956.1H1204M1196.8 948.9V963.3M1201.3 966.7H1215.7M1208.5 959.5V973.9M1213 983.2H1227.4M1220.2 976V990.4M1224.7 1007.4H1239.1M1231.9 1000.2V1014.6M1236.4 1035.8H1250.8M1243.6 1028.6V1043M1248 1072.5H1262.4M1255.2 1065.3V1079.7M1259.7 1118.2H1274.1M1266.9 1111V1125.4" stroke="#0000ff" stroke-width="3.0" fill="none"/>
<path d="M975 908.5C976.9 907.4 982.8 904.5 986.6 901.8C990.5 899.1 994.4 895.5 998.3 892.1C1002.2 888.7 1006.1 885.1 1010 881.6C1013.9 878.2 1017.8 874.4 1021.7 871.2C1025.6 867.9 1029.5 864.7 1033.4 862.2C1037.2 859.7 1041.1 857.6 1045 856.3C1048.9 854.9 1052.8 854.6 1056.7 854.1C1060.6 853.5 1064.5 853 1068.4 853C1072.3 852.9 1076.2 853.4 1080.1 853.9C1084 854.4 1087.9 855.2 1091.7 856.2C1095.6 857.2 1099.5 858.7 1103.4 860C1107.3 861.3 1111.2 862.3 1115.1 863.8C1119 865.3 1122.9 867.2 1126.8 869.1C1130.7 871 1134.6 873 1138.5 875.1C1142.3 877.3 1146.2 879.4 1150.1 881.9C1154 884.4 1157.9 887 1161.8 890.2C1165.7 893.5 1169.6 897.5 1173.5 901.6C1177.4 905.7 1181.3 909.9 1185.2 914.9C1189.1 919.9 1192.9 925.5 1196.8 931.7C1200.7 937.9 1204.6 944.5 1208.5 952.1C1212.4 959.7 1216.3 968.2 1220.2 977.3C1224.1 986.3 1229.9 1001.5 1231.9 1006.3L1231.9 1010.3C1229.9 1005.5 1224.1 990.3 1220.2 981.3C1216.3 972.3 1212.4 963.9 1208.5 956.3C1204.6 948.7 1200.7 942.1 1196.8 935.9C1192.9 929.8 1189.1 924.3 1185.2 919.3C1181.3 914.3 1177.4 910.1 1173.5 906C1169.6 901.9 1165.7 898 1161.8 894.8C1157.9 891.5 1154 889.1 1150.1 886.6C1146.2 884.1 1142.3 882 1138.5 879.9C1134.6 877.8 1130.7 875.8 1126.8 873.9C1122.9 872 1119 870.2 1115.1 868.7C1111.2 867.2 1107.3 866.2 1103.4 865C1099.5 863.8 1095.6 862.3 1091.7 861.3C1087.9 860.3 1084 859.6 1080.1 859.1C1076.2 858.6 1072.3 858.2 1068.4 858.2C1064.5 858.3 1060.6 858.8 1056.7 859.4C1052.8 860 1048.9 860.3 1045 861.7C1041.1 863.1 1037.2 865.3 1033.4 867.8C1029.5 870.3 1025.6 873.6 1021.7 876.8C1017.8 880.1 1013.9 883.8 1010 887.4C1006.1 890.9 1002.2 894.5 998.3 897.9C994.4 901.3 990.5 904.9 986.6 907.7C982.8 910.5 976.9 913.4 975 914.5Z" fill="#ff0000" fill-opacity="0.2" stroke="#ff0000" stroke-opacity="0.45" stroke-width="1.1"/>
<path d="M975 911.5L986.6 904.8L998.3 895L1010 884.5L1021.7 874L1033.4 865L1045 859L1056.7 856.8L1068.4 855.6L1080.1 856.5L1091.7 858.8L1103.4 862.5L1115.1 866.2L1126.8 871.5L1138.5 877.5L1150.1 884.2L1161.8 892.5L1173.5 903.8L1185.2 917.1L1196.8 933.8L1208.5 954.2L1220.2 979.3L1231.9 1008.3" fill="none" stroke="#ff0000" stroke-width="2.0" stroke-dasharray="2 4" stroke-linejoin="round"/>
<path d="M967.8 911.5H982.2M975 904.3V918.7M979.4 904.8H993.8M986.6 897.5V912M991.1 895H1005.5M998.3 887.8V902.2M1002.8 884.5H1017.2M1010 877.3V891.7M1014.5 874H1028.9M1021.7 866.8V881.2M1026.2 865H1040.6M1033.4 857.8V872.2M1037.8 859H1052.2M1045 851.8V866.2M1049.5 856.8H1063.9M1056.7 849.5V864M1061.2 855.6H1075.6M1068.4 848.4V862.8M1072.9 856.5H1087.3M1080.1 849.3V863.7M1084.5 858.8H1098.9M1091.7 851.5V866M1096.2 862.5H1110.6M1103.4 855.3V869.7M1107.9 866.2H1122.3M1115.1 859V873.5M1119.6 871.5H1134M1126.8 864.3V878.7M1131.3 877.5H1145.7M1138.5 870.3V884.7M1142.9 884.2H1157.3M1150.1 877V891.5M1154.6 892.5H1169M1161.8 885.3V899.7M1166.3 903.8H1180.7M1173.5 896.6V911M1178 917.1H1192.4M1185.2 909.9V924.3M1189.6 933.8H1204M1196.8 926.6V941M1201.3 954.2H1215.7M1208.5 947V961.4M1213 979.3H1227.4M1220.2 972.1V986.5M1224.7 1008.3H1239.1M1231.9 1001.1V1015.5" stroke="#ff0000" stroke-width="3.0" fill="none"/>
</g>
<rect x="425.3" y="74" width="117.2" height="415" fill="#ffff00" fill-opacity="0.2"/>
<rect x="1109.3" y="74" width="116.8" height="415" fill="#ffff00" fill-opacity="0.2"/>
<g transform="translate(38 360.4) rotate(-90)"><text x="1" y="0" style="font-family:'Liberation Serif',serif;font-style:italic;font-size:40px;fill:#262626" textLength="18.5" lengthAdjust="spacingAndGlyphs">χ</text><text x="22.5" y="18" style="font-family:'Liberation Sans',Arial,sans-serif;font-weight:bold;fill:#262626;font-size:28px">e</text><text x="52.5" y="0" style="font-family:'Liberation Sans',Arial,sans-serif;font-weight:bold;fill:#262626;font-size:36.5px" textLength="106" lengthAdjust="spacingAndGlyphs">(m<tspan dy="-17" style="font-size:27px">2</tspan><tspan dy="17">/s)</tspan></text></g>
<g transform="translate(723 360.4) rotate(-90)"><text x="1" y="0" style="font-family:'Liberation Serif',serif;font-style:italic;font-size:40px;fill:#262626" textLength="18.5" lengthAdjust="spacingAndGlyphs">χ</text><text x="20.5" y="18" style="font-family:'Liberation Sans',Arial,sans-serif;font-weight:bold;fill:#262626;font-size:28px">i</text><text x="52.5" y="0" style="font-family:'Liberation Sans',Arial,sans-serif;font-weight:bold;fill:#262626;font-size:36.5px" textLength="106" lengthAdjust="spacingAndGlyphs">(m<tspan dy="-17" style="font-size:27px">2</tspan><tspan dy="17">/s)</tspan></text></g>
<g transform="translate(38 1009.2) rotate(-90)"><text x="1" y="0" style="font-family:'Liberation Serif',serif;font-style:italic;font-size:40px;fill:#262626" textLength="18.5" lengthAdjust="spacingAndGlyphs">χ</text><text x="22.5" y="18" style="font-family:'Liberation Sans',Arial,sans-serif;font-weight:bold;fill:#262626;font-size:28px">e</text><text x="52.5" y="0" style="font-family:'Liberation Sans',Arial,sans-serif;font-weight:bold;fill:#262626;font-size:36.5px" textLength="106" lengthAdjust="spacingAndGlyphs">(m<tspan dy="-17" style="font-size:27px">2</tspan><tspan dy="17">/s)</tspan></text></g>
<g transform="translate(723 1009.2) rotate(-90)"><text x="1" y="0" style="font-family:'Liberation Serif',serif;font-style:italic;font-size:40px;fill:#262626" textLength="18.5" lengthAdjust="spacingAndGlyphs">χ</text><text x="20.5" y="18" style="font-family:'Liberation Sans',Arial,sans-serif;font-weight:bold;fill:#262626;font-size:28px">i</text><text x="52.5" y="0" style="font-family:'Liberation Sans',Arial,sans-serif;font-weight:bold;fill:#262626;font-size:36.5px" textLength="106" lengthAdjust="spacingAndGlyphs">(m<tspan dy="-17" style="font-size:27px">2</tspan><tspan dy="17">/s)</tspan></text></g>
<text x="167.5" y="116" style="font-family:'Liberation Sans',Arial,sans-serif;font-weight:bold;font-size:37px;letter-spacing:1px;fill:#000">(a)</text>
<text x="853" y="116" style="font-family:'Liberation Sans',Arial,sans-serif;font-weight:bold;font-size:37px;letter-spacing:1px;fill:#000">(b)</text>
<text x="167" y="767.8" style="font-family:'Liberation Sans',Arial,sans-serif;font-weight:bold;font-size:37px;letter-spacing:1px;fill:#000">(c)</text>
<text x="1222.5" y="765.2" style="font-family:'Liberation Sans',Arial,sans-serif;font-weight:bold;font-size:37px;letter-spacing:1px;fill:#000">(d)</text>
<path d="M168.4 343H241" stroke="#0000ff" stroke-width="5"/>
<text x="247.1" y="349.9" textLength="56" lengthAdjust="spacingAndGlyphs" text-anchor="start" style="font-family:'Liberation Serif','Times New Roman',serif;font-size:29px;fill:#000">Exp.</text>
<text x="318.6" y="349.9" textLength="19.8" lengthAdjust="spacingAndGlyphs" text-anchor="start" style="font-family:'Liberation Serif','Times New Roman',serif;font-size:29px;fill:#000">H</text>
<path d="M168.4 378.4H241" stroke="#ff0000" stroke-width="5"/>
<text x="247.1" y="385.3" textLength="56" lengthAdjust="spacingAndGlyphs" text-anchor="start" style="font-family:'Liberation Serif','Times New Roman',serif;font-size:29px;fill:#000">Exp.</text>
<text x="318.6" y="385.3" textLength="19.8" lengthAdjust="spacingAndGlyphs" text-anchor="start" style="font-family:'Liberation Serif','Times New Roman',serif;font-size:29px;fill:#000">D</text>
<path d="M168.4 413.8H241" stroke="#0000ff" stroke-width="2.5"/>
<path d="M204.7 406.6V421" stroke="#0000ff" stroke-width="3"/>
<text x="247.1" y="420.7" textLength="54" lengthAdjust="spacingAndGlyphs" text-anchor="start" style="font-family:'Liberation Serif','Times New Roman',serif;font-size:29px;fill:#000">Neo.</text>
<text x="316.6" y="420.7" textLength="19.8" lengthAdjust="spacingAndGlyphs" text-anchor="start" style="font-family:'Liberation Serif','Times New Roman',serif;font-size:29px;fill:#000">H</text>
<path d="M168.4 449.3H241" stroke="#ff0000" stroke-width="2.5"/>
<path d="M204.7 442.1V456.5" stroke="#ff0000" stroke-width="3"/>
<text x="247.1" y="456.2" textLength="54" lengthAdjust="spacingAndGlyphs" text-anchor="start" style="font-family:'Liberation Serif','Times New Roman',serif;font-size:29px;fill:#000">Neo.</text>
<text x="316.6" y="456.2" textLength="19.8" lengthAdjust="spacingAndGlyphs" text-anchor="start" style="font-family:'Liberation Serif','Times New Roman',serif;font-size:29px;fill:#000">D</text>
<path d="M853.1 343H926" stroke="#0000ff" stroke-width="5" stroke-dasharray="4.6 4.2"/>
<text x="932.1" y="349.9" textLength="56" lengthAdjust="spacingAndGlyphs" text-anchor="start" style="font-family:'Liberation Serif','Times New Roman',serif;font-size:29px;fill:#000">Exp.</text>
<text x="1003.6" y="349.9" textLength="19.8" lengthAdjust="spacingAndGlyphs" text-anchor="start" style="font-family:'Liberation Serif','Times New Roman',serif;font-size:29px;fill:#000">H</text>
<path d="M853.1 378.4H926" stroke="#ff0000" stroke-width="5" stroke-dasharray="4.6 4.2"/>
<text x="932.1" y="385.3" textLength="56" lengthAdjust="spacingAndGlyphs" text-anchor="start" style="font-family:'Liberation Serif','Times New Roman',serif;font-size:29px;fill:#000">Exp.</text>
<text x="1003.6" y="385.3" textLength="19.8" lengthAdjust="spacingAndGlyphs" text-anchor="start" style="font-family:'Liberation Serif','Times New Roman',serif;font-size:29px;fill:#000">D</text>
<path d="M853.1 413.8H926" stroke="#0000ff" stroke-width="2.2" stroke-dasharray="2.2 3.8"/>
<path d="M882 413.8H897M889.5 406.6V421" stroke="#0000ff" stroke-width="3.2"/>
<text x="932.1" y="420.7" textLength="54" lengthAdjust="spacingAndGlyphs" text-anchor="start" style="font-family:'Liberation Serif','Times New Roman',serif;font-size:29px;fill:#000">Neo.</text>
<text x="1001.6" y="420.7" textLength="19.8" lengthAdjust="spacingAndGlyphs" text-anchor="start" style="font-family:'Liberation Serif','Times New Roman',serif;font-size:29px;fill:#000">H</text>
<path d="M853.1 449.3H926" stroke="#ff0000" stroke-width="2.2" stroke-dasharray="2.2 3.8"/>
<path d="M882 449.3H897M889.5 442.1V456.5" stroke="#ff0000" stroke-width="3.2"/>
<text x="932.1" y="456.2" textLength="54" lengthAdjust="spacingAndGlyphs" text-anchor="start" style="font-family:'Liberation Serif','Times New Roman',serif;font-size:29px;fill:#000">Neo.</text>
<text x="1001.6" y="456.2" textLength="19.8" lengthAdjust="spacingAndGlyphs" text-anchor="start" style="font-family:'Liberation Serif','Times New Roman',serif;font-size:29px;fill:#000">D</text>
<path d="M416.4 762.3H489" stroke="#0000ff" stroke-width="5"/>
<text x="495.1" y="769.2" textLength="56" lengthAdjust="spacingAndGlyphs" text-anchor="start" style="font-family:'Liberation Serif','Times New Roman',serif;font-size:29px;fill:#000">Exp.</text>
<text x="566.6" y="769.2" textLength="19.8" lengthAdjust="spacingAndGlyphs" text-anchor="start" style="font-family:'Liberation Serif','Times New Roman',serif;font-size:29px;fill:#000">H</text>
<path d="M416.4 798H489" stroke="#ff0000" stroke-width="5"/>
<text x="495.1" y="804.9" textLength="56" lengthAdjust="spacingAndGlyphs" text-anchor="start" style="font-family:'Liberation Serif','Times New Roman',serif;font-size:29px;fill:#000">Exp.</text>
<text x="566.6" y="804.9" textLength="19.8" lengthAdjust="spacingAndGlyphs" text-anchor="start" style="font-family:'Liberation Serif','Times New Roman',serif;font-size:29px;fill:#000">D</text>
<path d="M416.4 833.4H489" stroke="#0000ff" stroke-width="2.5"/>
<path d="M452.7 826.2V840.6" stroke="#0000ff" stroke-width="3"/>
<text x="495.1" y="840.3" textLength="54" lengthAdjust="spacingAndGlyphs" text-anchor="start" style="font-family:'Liberation Serif','Times New Roman',serif;font-size:29px;fill:#000">Neo.</text>
<text x="564.6" y="840.3" textLength="19.8" lengthAdjust="spacingAndGlyphs" text-anchor="start" style="font-family:'Liberation Serif','Times New Roman',serif;font-size:29px;fill:#000">H</text>
<path d="M416.4 868.9H489" stroke="#ff0000" stroke-width="2.5"/>
<path d="M452.7 861.7V876.1" stroke="#ff0000" stroke-width="3"/>
<text x="495.1" y="875.8" textLength="54" lengthAdjust="spacingAndGlyphs" text-anchor="start" style="font-family:'Liberation Serif','Times New Roman',serif;font-size:29px;fill:#000">Neo.</text>
<text x="564.6" y="875.8" textLength="19.8" lengthAdjust="spacingAndGlyphs" text-anchor="start" style="font-family:'Liberation Serif','Times New Roman',serif;font-size:29px;fill:#000">D</text>
<path d="M853.1 991.2H926" stroke="#0000ff" stroke-width="5" stroke-dasharray="4.6 4.2"/>
<text x="932.1" y="998.1" textLength="56" lengthAdjust="spacingAndGlyphs" text-anchor="start" style="font-family:'Liberation Serif','Times New Roman',serif;font-size:29px;fill:#000">Exp.</text>
<text x="1003.6" y="998.1" textLength="19.8" lengthAdjust="spacingAndGlyphs" text-anchor="start" style="font-family:'Liberation Serif','Times New Roman',serif;font-size:29px;fill:#000">H</text>
<path d="M853.1 1026.7H926" stroke="#ff0000" stroke-width="5" stroke-dasharray="4.6 4.2"/>
<text x="932.1" y="1033.6" textLength="56" lengthAdjust="spacingAndGlyphs" text-anchor="start" style="font-family:'Liberation Serif','Times New Roman',serif;font-size:29px;fill:#000">Exp.</text>
<text x="1003.6" y="1033.6" textLength="19.8" lengthAdjust="spacingAndGlyphs" text-anchor="start" style="font-family:'Liberation Serif','Times New Roman',serif;font-size:29px;fill:#000">D</text>
<path d="M853.1 1062.4H926" stroke="#0000ff" stroke-width="2.2" stroke-dasharray="2.2 3.8"/>
<path d="M882 1062.4H897M889.5 1055.2V1069.6" stroke="#0000ff" stroke-width="3.2"/>
<text x="932.1" y="1069.3" textLength="54" lengthAdjust="spacingAndGlyphs" text-anchor="start" style="font-family:'Liberation Serif','Times New Roman',serif;font-size:29px;fill:#000">Neo.</text>
<text x="1001.6" y="1069.3" textLength="19.8" lengthAdjust="spacingAndGlyphs" text-anchor="start" style="font-family:'Liberation Serif','Times New Roman',serif;font-size:29px;fill:#000">H</text>
<path d="M853.1 1097.8H926" stroke="#ff0000" stroke-width="2.2" stroke-dasharray="2.2 3.8"/>
<path d="M882 1097.8H897M889.5 1090.6V1105" stroke="#ff0000" stroke-width="3.2"/>
<text x="932.1" y="1104.7" textLength="54" lengthAdjust="spacingAndGlyphs" text-anchor="start" style="font-family:'Liberation Serif','Times New Roman',serif;font-size:29px;fill:#000">Neo.</text>
<text x="1001.6" y="1104.7" textLength="19.8" lengthAdjust="spacingAndGlyphs" text-anchor="start" style="font-family:'Liberation Serif','Times New Roman',serif;font-size:29px;fill:#000">D</text>
<text x="50.5" y="32" textLength="213" lengthAdjust="spacingAndGlyphs" text-anchor="start" style="font-family:'Liberation Serif','Times New Roman',serif;font-size:38.5px;fill:#000">Low density:</text>
<text x="282" y="32" textLength="21" lengthAdjust="spacingAndGlyphs" text-anchor="start" style="font-family:'Liberation Serif','Times New Roman',serif;font-size:38.5px;fill:#000;font-style:italic" stroke="#fff" stroke-width="0.4">n̄</text>
<text x="305" y="37.5" textLength="12" lengthAdjust="spacingAndGlyphs" text-anchor="start" style="font-family:'Liberation Serif','Times New Roman',serif;font-size:27px;fill:#000;font-style:italic" stroke="#fff" stroke-width="0.4">e</text>
<text x="327.5" y="38" textLength="36.8" lengthAdjust="spacingAndGlyphs" text-anchor="start" style="font-family:'Liberation Serif','Noto Serif CJK SC',serif;font-size:53px;fill:#000">≅</text>
<text x="372.5" y="32" textLength="47" lengthAdjust="spacingAndGlyphs" text-anchor="start" style="font-family:'Liberation Serif','Times New Roman',serif;font-size:38.5px;fill:#000">1.7</text>
<text x="429.6" y="38.8" text-anchor="start" style="font-family:'Liberation Serif','Noto Serif CJK SC',serif;font-size:49px;fill:#000">×</text>
<text x="468" y="32" textLength="37" lengthAdjust="spacingAndGlyphs" text-anchor="start" style="font-family:'Liberation Serif','Times New Roman',serif;font-size:38.5px;fill:#000">10</text>
<text x="506" y="18.5" textLength="25" lengthAdjust="spacingAndGlyphs" text-anchor="start" style="font-family:'Liberation Serif','Times New Roman',serif;font-size:27px;fill:#000">19</text>
<text x="533" y="32" textLength="34" lengthAdjust="spacingAndGlyphs" text-anchor="start" style="font-family:'Liberation Serif','Times New Roman',serif;font-size:38.5px;fill:#000;font-style:italic" stroke="#fff" stroke-width="0.55">m</text>
<text x="569" y="18.5" textLength="33" lengthAdjust="spacingAndGlyphs" text-anchor="start" style="font-family:'Liberation Serif','Times New Roman',serif;font-size:27px;fill:#000">−3</text>
<text x="605.5" y="32" textLength="8" lengthAdjust="spacingAndGlyphs" text-anchor="start" style="font-family:'Liberation Serif','Times New Roman',serif;font-size:38.5px;fill:#000">,</text>
<text x="640" y="32" textLength="203.5" lengthAdjust="spacingAndGlyphs" text-anchor="start" style="font-family:'Liberation Serif','Times New Roman',serif;font-size:38.5px;fill:#000">High power:</text>
<text x="861" y="32" textLength="30" lengthAdjust="spacingAndGlyphs" text-anchor="start" style="font-family:'Liberation Serif','Times New Roman',serif;font-size:38.5px;fill:#000;font-style:italic" stroke="#fff" stroke-width="0.55">P</text>
<text x="885" y="37.5" textLength="60" lengthAdjust="spacingAndGlyphs" text-anchor="start" style="font-family:'Liberation Serif','Times New Roman',serif;font-size:27px;fill:#000;font-style:italic" stroke="#fff" stroke-width="0.55">NBI</text>
<text x="955" y="38" textLength="36.8" lengthAdjust="spacingAndGlyphs" text-anchor="start" style="font-family:'Liberation Serif','Noto Serif CJK SC',serif;font-size:53px;fill:#000">≅</text>
<text x="999" y="32" textLength="49" lengthAdjust="spacingAndGlyphs" text-anchor="start" style="font-family:'Liberation Serif','Times New Roman',serif;font-size:38.5px;fill:#000">7.0</text>
<text x="1048" y="32" textLength="79" lengthAdjust="spacingAndGlyphs" text-anchor="start" style="font-family:'Liberation Serif','Times New Roman',serif;font-size:38.5px;fill:#000;font-style:italic" stroke="#fff" stroke-width="0.55">MW</text>
<text x="1145" y="32" textLength="12.5" lengthAdjust="spacingAndGlyphs" text-anchor="start" style="font-family:'Liberation Serif','Times New Roman',serif;font-size:38.5px;fill:#000">(</text>
<text x="1158.5" y="32" textLength="33" lengthAdjust="spacingAndGlyphs" text-anchor="start" style="font-family:'Liberation Serif','Times New Roman',serif;font-size:38.5px;fill:#000;font-style:italic" stroke="#fff" stroke-width="0.4">H</text>
<text x="1207" y="32" textLength="156" lengthAdjust="spacingAndGlyphs" text-anchor="start" style="font-family:'Liberation Serif','Times New Roman',serif;font-size:38.5px;fill:#000">#176298,</text>
<text x="1383" y="32" textLength="33" lengthAdjust="spacingAndGlyphs" text-anchor="start" style="font-family:'Liberation Serif','Times New Roman',serif;font-size:38.5px;fill:#000;font-style:italic" stroke="#fff" stroke-width="0.4">D</text>
<text x="1430.5" y="32" textLength="159" lengthAdjust="spacingAndGlyphs" text-anchor="start" style="font-family:'Liberation Serif','Times New Roman',serif;font-size:38.5px;fill:#000">#171606)</text>
<text x="46" y="690.5" textLength="225.5" lengthAdjust="spacingAndGlyphs" text-anchor="start" style="font-family:'Liberation Serif','Times New Roman',serif;font-size:38.5px;fill:#000">High density:</text>
<text x="287" y="690.5" textLength="20.5" lengthAdjust="spacingAndGlyphs" text-anchor="start" style="font-family:'Liberation Serif','Times New Roman',serif;font-size:38.5px;fill:#000;font-style:italic" stroke="#fff" stroke-width="0.4">n̄</text>
<text x="309.5" y="696" textLength="12.5" lengthAdjust="spacingAndGlyphs" text-anchor="start" style="font-family:'Liberation Serif','Times New Roman',serif;font-size:27px;fill:#000;font-style:italic" stroke="#fff" stroke-width="0.4">e</text>
<text x="332.2" y="696.5" textLength="36.8" lengthAdjust="spacingAndGlyphs" text-anchor="start" style="font-family:'Liberation Serif','Noto Serif CJK SC',serif;font-size:53px;fill:#000">≅</text>
<text x="375.5" y="690.5" textLength="48.5" lengthAdjust="spacingAndGlyphs" text-anchor="start" style="font-family:'Liberation Serif','Times New Roman',serif;font-size:38.5px;fill:#000">4.5</text>
<text x="435.1" y="697.3" text-anchor="start" style="font-family:'Liberation Serif','Noto Serif CJK SC',serif;font-size:49px;fill:#000">×</text>
<text x="473.5" y="690.5" textLength="37.5" lengthAdjust="spacingAndGlyphs" text-anchor="start" style="font-family:'Liberation Serif','Times New Roman',serif;font-size:38.5px;fill:#000">10</text>
<text x="511.5" y="677" textLength="25.5" lengthAdjust="spacingAndGlyphs" text-anchor="start" style="font-family:'Liberation Serif','Times New Roman',serif;font-size:27px;fill:#000">19</text>
<text x="539" y="690.5" textLength="34.5" lengthAdjust="spacingAndGlyphs" text-anchor="start" style="font-family:'Liberation Serif','Times New Roman',serif;font-size:38.5px;fill:#000;font-style:italic" stroke="#fff" stroke-width="0.55">m</text>
<text x="573.5" y="677" textLength="34" lengthAdjust="spacingAndGlyphs" text-anchor="start" style="font-family:'Liberation Serif','Times New Roman',serif;font-size:27px;fill:#000">−3</text>
<text x="611" y="690.5" textLength="8" lengthAdjust="spacingAndGlyphs" text-anchor="start" style="font-family:'Liberation Serif','Times New Roman',serif;font-size:38.5px;fill:#000">,</text>
<text x="645.5" y="690.5" textLength="204.5" lengthAdjust="spacingAndGlyphs" text-anchor="start" style="font-family:'Liberation Serif','Times New Roman',serif;font-size:38.5px;fill:#000">High power:</text>
<text x="866.5" y="690.5" textLength="30" lengthAdjust="spacingAndGlyphs" text-anchor="start" style="font-family:'Liberation Serif','Times New Roman',serif;font-size:38.5px;fill:#000;font-style:italic" stroke="#fff" stroke-width="0.55">P</text>
<text x="890.5" y="696" textLength="61" lengthAdjust="spacingAndGlyphs" text-anchor="start" style="font-family:'Liberation Serif','Times New Roman',serif;font-size:27px;fill:#000;font-style:italic" stroke="#fff" stroke-width="0.55">NBI</text>
<text x="960" y="696.5" textLength="36.8" lengthAdjust="spacingAndGlyphs" text-anchor="start" style="font-family:'Liberation Serif','Noto Serif CJK SC',serif;font-size:53px;fill:#000">≅</text>
<text x="1004" y="690.5" textLength="68" lengthAdjust="spacingAndGlyphs" text-anchor="start" style="font-family:'Liberation Serif','Times New Roman',serif;font-size:38.5px;fill:#000">10.0</text>
<text x="1072" y="690.5" textLength="79" lengthAdjust="spacingAndGlyphs" text-anchor="start" style="font-family:'Liberation Serif','Times New Roman',serif;font-size:38.5px;fill:#000;font-style:italic" stroke="#fff" stroke-width="0.55">MW</text>
<text x="1170" y="690.5" textLength="12.5" lengthAdjust="spacingAndGlyphs" text-anchor="start" style="font-family:'Liberation Serif','Times New Roman',serif;font-size:38.5px;fill:#000">(</text>
<text x="1183" y="690.5" textLength="33" lengthAdjust="spacingAndGlyphs" text-anchor="start" style="font-family:'Liberation Serif','Times New Roman',serif;font-size:38.5px;fill:#000;font-style:italic" stroke="#fff" stroke-width="0.4">H</text>
<text x="1232" y="690.5" textLength="158" lengthAdjust="spacingAndGlyphs" text-anchor="start" style="font-family:'Liberation Serif','Times New Roman',serif;font-size:38.5px;fill:#000">#176305,</text>
<text x="1395.5" y="690.5" textLength="33" lengthAdjust="spacingAndGlyphs" text-anchor="start" style="font-family:'Liberation Serif','Times New Roman',serif;font-size:38.5px;fill:#000;font-style:italic" stroke="#fff" stroke-width="0.4">D</text>
<text x="1441.5" y="690.5" textLength="158" lengthAdjust="spacingAndGlyphs" text-anchor="start" style="font-family:'Liberation Serif','Times New Roman',serif;font-size:38.5px;fill:#000">#171617)</text>
</svg></body></html>
